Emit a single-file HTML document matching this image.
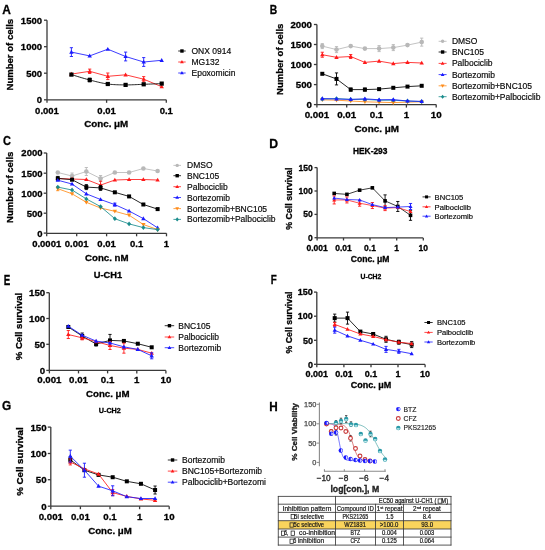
<!DOCTYPE html>
<html><head><meta charset="utf-8"><style>
html,body{margin:0;padding:0;background:#fff;width:545px;height:550px;overflow:hidden}
svg{display:block;filter:blur(0.35px);font-family:"Liberation Sans", sans-serif}
text[font-weight=bold]{stroke:#000;stroke-width:0.3px}
</style></head><body>
<svg width="545" height="550" viewBox="0 0 545 550">
<rect width="545" height="550" fill="#fff"/>
<text transform="translate(2.30,14.30) scale(0.922,1)" font-size="12.94" font-weight="bold" fill="#000">A</text>
<line x1="47.0" y1="20.2" x2="47.0" y2="99.8" stroke="#3a3a3a" stroke-width="1.3"/>
<line x1="44.0" y1="99.8" x2="47.0" y2="99.8" stroke="#3a3a3a" stroke-width="1.3"/>
<text x="42.0" y="103.22" font-size="9.5" font-weight="bold" text-anchor="end" fill="#000">0</text>
<line x1="44.0" y1="73.2" x2="47.0" y2="73.2" stroke="#3a3a3a" stroke-width="1.3"/>
<text x="42.0" y="76.62" font-size="9.5" font-weight="bold" text-anchor="end" fill="#000">500</text>
<line x1="44.0" y1="46.7" x2="47.0" y2="46.7" stroke="#3a3a3a" stroke-width="1.3"/>
<text x="42.0" y="50.120000000000005" font-size="9.5" font-weight="bold" text-anchor="end" fill="#000">1000</text>
<line x1="44.0" y1="20.2" x2="47.0" y2="20.2" stroke="#3a3a3a" stroke-width="1.3"/>
<text x="42.0" y="23.619999999999997" font-size="9.5" font-weight="bold" text-anchor="end" fill="#000">1500</text>
<line x1="47.0" y1="99.8" x2="166.3" y2="99.8" stroke="#3a3a3a" stroke-width="1.3"/>
<line x1="47.0" y1="99.8" x2="47.0" y2="102.8" stroke="#3a3a3a" stroke-width="1.3"/>
<text x="47.0" y="113.5" font-size="9.5" font-weight="bold" text-anchor="middle" fill="#000">0.001</text>
<line x1="106.6" y1="99.8" x2="106.6" y2="102.8" stroke="#3a3a3a" stroke-width="1.3"/>
<text x="106.6" y="113.5" font-size="9.5" font-weight="bold" text-anchor="middle" fill="#000">0.01</text>
<line x1="166.3" y1="99.8" x2="166.3" y2="102.8" stroke="#3a3a3a" stroke-width="1.3"/>
<text x="166.3" y="113.5" font-size="9.5" font-weight="bold" text-anchor="middle" fill="#000">0.1</text>
<text x="106.2" y="126.7" font-size="9.8" font-weight="bold" text-anchor="middle" fill="#000">Conc. μM</text>
<text x="13.3" y="54.7" font-size="9.55" font-weight="bold" text-anchor="middle" transform="rotate(-90 13.3 54.7)" fill="#000">Number of cells</text>
<polyline points="71.40,74.10 89.70,71.30 107.80,76.30 125.60,74.80 143.70,79.20 161.70,86.70" fill="none" stroke="#ff1a1a" stroke-width="0.85" stroke-linejoin="round"/>
<line x1="89.7" y1="69.1" x2="89.7" y2="73.5" stroke="#ff1a1a" stroke-width="0.9"/>
<line x1="88.10000000000001" y1="69.1" x2="91.3" y2="69.1" stroke="#ff1a1a" stroke-width="0.9"/>
<line x1="88.10000000000001" y1="73.5" x2="91.3" y2="73.5" stroke="#ff1a1a" stroke-width="0.9"/>
<line x1="107.8" y1="73.0" x2="107.8" y2="79.6" stroke="#ff1a1a" stroke-width="0.9"/>
<line x1="106.2" y1="73.0" x2="109.39999999999999" y2="73.0" stroke="#ff1a1a" stroke-width="0.9"/>
<line x1="106.2" y1="79.6" x2="109.39999999999999" y2="79.6" stroke="#ff1a1a" stroke-width="0.9"/>
<line x1="143.7" y1="76.60000000000001" x2="143.7" y2="81.8" stroke="#ff1a1a" stroke-width="0.9"/>
<line x1="142.1" y1="76.60000000000001" x2="145.29999999999998" y2="76.60000000000001" stroke="#ff1a1a" stroke-width="0.9"/>
<line x1="142.1" y1="81.8" x2="145.29999999999998" y2="81.8" stroke="#ff1a1a" stroke-width="0.9"/>
<polygon points="71.40,71.80 73.60,75.70 69.20,75.70" fill="#ff1a1a"/>
<polygon points="89.70,69.00 91.90,72.90 87.50,72.90" fill="#ff1a1a"/>
<polygon points="107.80,74.00 110.00,77.90 105.60,77.90" fill="#ff1a1a"/>
<polygon points="125.60,72.50 127.80,76.40 123.40,76.40" fill="#ff1a1a"/>
<polygon points="143.70,76.90 145.90,80.80 141.50,80.80" fill="#ff1a1a"/>
<polygon points="161.70,84.40 163.90,88.30 159.50,88.30" fill="#ff1a1a"/>
<polyline points="71.40,74.60 72.28,74.87 73.39,75.20 74.69,75.60 76.15,76.05 77.74,76.54 79.42,77.05 81.16,77.58 82.94,78.10 84.71,78.62 86.45,79.12 88.12,79.58 89.70,80.00 91.22,80.39 92.73,80.78 94.25,81.17 95.76,81.55 97.27,81.92 98.78,82.28 100.29,82.62 101.80,82.95 103.30,83.25 104.80,83.53 106.30,83.78 107.80,84.00 109.29,84.19 110.78,84.35 112.26,84.48 113.74,84.59 115.22,84.67 116.70,84.74 118.18,84.79 119.66,84.83 121.14,84.85 122.62,84.87 124.11,84.89 125.60,84.90 127.10,84.90 128.60,84.89 130.11,84.86 131.61,84.81 133.13,84.76 134.64,84.70 136.15,84.63 137.66,84.56 139.18,84.49 140.69,84.42 142.19,84.36 143.70,84.30 145.26,84.24 146.91,84.18 148.63,84.12 150.37,84.05 152.12,83.98 153.83,83.91 155.48,83.85 157.04,83.79 158.47,83.73 159.74,83.68 160.83,83.63 161.70,83.60" fill="none" stroke="#000" stroke-width="0.85" stroke-linejoin="round"/>
<rect x="69.30" y="72.50" width="4.20" height="4.20" fill="#000"/>
<rect x="87.60" y="77.90" width="4.20" height="4.20" fill="#000"/>
<rect x="105.70" y="81.90" width="4.20" height="4.20" fill="#000"/>
<rect x="123.50" y="82.80" width="4.20" height="4.20" fill="#000"/>
<rect x="141.60" y="82.20" width="4.20" height="4.20" fill="#000"/>
<rect x="159.60" y="81.50" width="4.20" height="4.20" fill="#000"/>
<line x1="89.7" y1="78.2" x2="89.7" y2="81.8" stroke="#000" stroke-width="0.9"/>
<line x1="88.10000000000001" y1="78.2" x2="91.3" y2="78.2" stroke="#000" stroke-width="0.9"/>
<line x1="88.10000000000001" y1="81.8" x2="91.3" y2="81.8" stroke="#000" stroke-width="0.9"/>
<polyline points="71.40,52.10 89.70,55.90 107.80,49.20 125.60,56.50 143.70,62.00 161.70,60.30" fill="none" stroke="#1a1aff" stroke-width="0.85" stroke-linejoin="round"/>
<line x1="71.4" y1="47.7" x2="71.4" y2="56.5" stroke="#1a1aff" stroke-width="0.9"/>
<line x1="69.80000000000001" y1="47.7" x2="73.0" y2="47.7" stroke="#1a1aff" stroke-width="0.9"/>
<line x1="69.80000000000001" y1="56.5" x2="73.0" y2="56.5" stroke="#1a1aff" stroke-width="0.9"/>
<line x1="125.6" y1="52.1" x2="125.6" y2="60.9" stroke="#1a1aff" stroke-width="0.9"/>
<line x1="124.0" y1="52.1" x2="127.19999999999999" y2="52.1" stroke="#1a1aff" stroke-width="0.9"/>
<line x1="124.0" y1="60.9" x2="127.19999999999999" y2="60.9" stroke="#1a1aff" stroke-width="0.9"/>
<line x1="143.7" y1="57.6" x2="143.7" y2="66.4" stroke="#1a1aff" stroke-width="0.9"/>
<line x1="142.1" y1="57.6" x2="145.29999999999998" y2="57.6" stroke="#1a1aff" stroke-width="0.9"/>
<line x1="142.1" y1="66.4" x2="145.29999999999998" y2="66.4" stroke="#1a1aff" stroke-width="0.9"/>
<polygon points="71.40,49.80 73.60,53.70 69.20,53.70" fill="#1a1aff"/>
<polygon points="89.70,53.60 91.90,57.50 87.50,57.50" fill="#1a1aff"/>
<polygon points="107.80,46.90 110.00,50.80 105.60,50.80" fill="#1a1aff"/>
<polygon points="125.60,54.20 127.80,58.10 123.40,58.10" fill="#1a1aff"/>
<polygon points="143.70,59.70 145.90,63.60 141.50,63.60" fill="#1a1aff"/>
<polygon points="161.70,58.00 163.90,61.90 159.50,61.90" fill="#1a1aff"/>
<line x1="178.2" y1="51" x2="185.7" y2="51" stroke="#000" stroke-width="0.8"/>
<rect x="180.25" y="49.30" width="3.40" height="3.40" fill="#000"/>
<text x="191.5" y="54.06" font-size="8.5" stroke="#0a0a0a" stroke-width="0.18" fill="#0a0a0a">ONX 0914</text>
<line x1="178.2" y1="62" x2="185.7" y2="62" stroke="#ff1a1a" stroke-width="0.8"/>
<polygon points="181.95,60.05 183.82,63.36 180.08,63.36" fill="#ff1a1a"/>
<text x="191.5" y="65.06" font-size="8.5" stroke="#0a0a0a" stroke-width="0.18" fill="#0a0a0a">MG132</text>
<line x1="178.2" y1="73" x2="185.7" y2="73" stroke="#1a1aff" stroke-width="0.8"/>
<polygon points="181.95,71.05 183.82,74.36 180.08,74.36" fill="#1a1aff"/>
<text x="191.5" y="76.06" font-size="8.5" stroke="#0a0a0a" stroke-width="0.18" fill="#0a0a0a">Epoxomicin</text>
<text transform="translate(269.71,13.70) scale(0.799,1)" font-size="12.94" font-weight="bold" fill="#000">B</text>
<line x1="316.9" y1="24.5" x2="316.9" y2="104.6" stroke="#3a3a3a" stroke-width="1.3"/>
<line x1="313.9" y1="104.6" x2="316.9" y2="104.6" stroke="#3a3a3a" stroke-width="1.3"/>
<text x="312.0" y="108.092" font-size="9.7" font-weight="bold" text-anchor="end" fill="#000">0</text>
<line x1="313.9" y1="84.6" x2="316.9" y2="84.6" stroke="#3a3a3a" stroke-width="1.3"/>
<text x="312.0" y="88.092" font-size="9.7" font-weight="bold" text-anchor="end" fill="#000">500</text>
<line x1="313.9" y1="64.5" x2="316.9" y2="64.5" stroke="#3a3a3a" stroke-width="1.3"/>
<text x="312.0" y="67.992" font-size="9.7" font-weight="bold" text-anchor="end" fill="#000">1000</text>
<line x1="313.9" y1="44.5" x2="316.9" y2="44.5" stroke="#3a3a3a" stroke-width="1.3"/>
<text x="312.0" y="47.992" font-size="9.7" font-weight="bold" text-anchor="end" fill="#000">1500</text>
<line x1="313.9" y1="24.5" x2="316.9" y2="24.5" stroke="#3a3a3a" stroke-width="1.3"/>
<text x="312.0" y="27.992" font-size="9.7" font-weight="bold" text-anchor="end" fill="#000">2000</text>
<line x1="316.9" y1="104.6" x2="436.2" y2="104.6" stroke="#3a3a3a" stroke-width="1.3"/>
<line x1="316.9" y1="104.6" x2="316.9" y2="107.6" stroke="#3a3a3a" stroke-width="1.3"/>
<text x="316.9" y="117.7" font-size="9.8" font-weight="bold" text-anchor="middle" fill="#000">0.001</text>
<line x1="346.7" y1="104.6" x2="346.7" y2="107.6" stroke="#3a3a3a" stroke-width="1.3"/>
<text x="346.7" y="117.7" font-size="9.8" font-weight="bold" text-anchor="middle" fill="#000">0.01</text>
<line x1="376.5" y1="104.6" x2="376.5" y2="107.6" stroke="#3a3a3a" stroke-width="1.3"/>
<text x="376.5" y="117.7" font-size="9.8" font-weight="bold" text-anchor="middle" fill="#000">0.1</text>
<line x1="406.4" y1="104.6" x2="406.4" y2="107.6" stroke="#3a3a3a" stroke-width="1.3"/>
<text x="406.4" y="117.7" font-size="9.8" font-weight="bold" text-anchor="middle" fill="#000">1</text>
<line x1="436.2" y1="104.6" x2="436.2" y2="107.6" stroke="#3a3a3a" stroke-width="1.3"/>
<text x="436.2" y="117.7" font-size="9.8" font-weight="bold" text-anchor="middle" fill="#000">10</text>
<text x="376.7" y="131.7" font-size="9.9" font-weight="bold" text-anchor="middle" fill="#000">Conc. μM</text>
<text x="283.3" y="59.3" font-size="9.5" font-weight="bold" text-anchor="middle" transform="rotate(-90 283.3 59.3)" fill="#000">Number of cells</text>
<polyline points="322.30,46.12 336.50,49.60 350.70,46.12 364.90,48.60 379.10,48.60 393.30,47.60 407.50,45.12 421.70,42.12" fill="none" stroke="#b8b8b8" stroke-width="0.85" stroke-linejoin="round"/>
<line x1="322.3" y1="43.61999999999999" x2="322.3" y2="48.61999999999999" stroke="#b8b8b8" stroke-width="0.9"/>
<line x1="320.7" y1="43.61999999999999" x2="323.90000000000003" y2="43.61999999999999" stroke="#b8b8b8" stroke-width="0.9"/>
<line x1="320.7" y1="48.61999999999999" x2="323.90000000000003" y2="48.61999999999999" stroke="#b8b8b8" stroke-width="0.9"/>
<line x1="336.5" y1="46.599999999999994" x2="336.5" y2="52.599999999999994" stroke="#b8b8b8" stroke-width="0.9"/>
<line x1="334.9" y1="46.599999999999994" x2="338.1" y2="46.599999999999994" stroke="#b8b8b8" stroke-width="0.9"/>
<line x1="334.9" y1="52.599999999999994" x2="338.1" y2="52.599999999999994" stroke="#b8b8b8" stroke-width="0.9"/>
<line x1="379.1" y1="45.599999999999994" x2="379.1" y2="51.599999999999994" stroke="#b8b8b8" stroke-width="0.9"/>
<line x1="377.5" y1="45.599999999999994" x2="380.70000000000005" y2="45.599999999999994" stroke="#b8b8b8" stroke-width="0.9"/>
<line x1="377.5" y1="51.599999999999994" x2="380.70000000000005" y2="51.599999999999994" stroke="#b8b8b8" stroke-width="0.9"/>
<line x1="393.3" y1="44.599999999999994" x2="393.3" y2="50.599999999999994" stroke="#b8b8b8" stroke-width="0.9"/>
<line x1="391.7" y1="44.599999999999994" x2="394.90000000000003" y2="44.599999999999994" stroke="#b8b8b8" stroke-width="0.9"/>
<line x1="391.7" y1="50.599999999999994" x2="394.90000000000003" y2="50.599999999999994" stroke="#b8b8b8" stroke-width="0.9"/>
<line x1="421.7" y1="38.11999999999999" x2="421.7" y2="46.11999999999999" stroke="#b8b8b8" stroke-width="0.9"/>
<line x1="420.09999999999997" y1="38.11999999999999" x2="423.3" y2="38.11999999999999" stroke="#b8b8b8" stroke-width="0.9"/>
<line x1="420.09999999999997" y1="46.11999999999999" x2="423.3" y2="46.11999999999999" stroke="#b8b8b8" stroke-width="0.9"/>
<circle cx="322.30" cy="46.12" r="2.30" fill="#b8b8b8"/>
<circle cx="336.50" cy="49.60" r="2.30" fill="#b8b8b8"/>
<circle cx="350.70" cy="46.12" r="2.30" fill="#b8b8b8"/>
<circle cx="364.90" cy="48.60" r="2.30" fill="#b8b8b8"/>
<circle cx="379.10" cy="48.60" r="2.30" fill="#b8b8b8"/>
<circle cx="393.30" cy="47.60" r="2.30" fill="#b8b8b8"/>
<circle cx="407.50" cy="45.12" r="2.30" fill="#b8b8b8"/>
<circle cx="421.70" cy="42.12" r="2.30" fill="#b8b8b8"/>
<polyline points="322.30,54.72 336.50,57.32 350.70,56.52 364.90,62.40 379.10,61.12 393.30,63.60 407.50,62.40 421.70,63.00" fill="none" stroke="#ff1a1a" stroke-width="0.85" stroke-linejoin="round"/>
<line x1="322.3" y1="52.21999999999999" x2="322.3" y2="57.21999999999999" stroke="#ff1a1a" stroke-width="0.9"/>
<line x1="320.7" y1="52.21999999999999" x2="323.90000000000003" y2="52.21999999999999" stroke="#ff1a1a" stroke-width="0.9"/>
<line x1="320.7" y1="57.21999999999999" x2="323.90000000000003" y2="57.21999999999999" stroke="#ff1a1a" stroke-width="0.9"/>
<line x1="350.7" y1="54.519999999999996" x2="350.7" y2="58.519999999999996" stroke="#ff1a1a" stroke-width="0.9"/>
<line x1="349.09999999999997" y1="54.519999999999996" x2="352.3" y2="54.519999999999996" stroke="#ff1a1a" stroke-width="0.9"/>
<line x1="349.09999999999997" y1="58.519999999999996" x2="352.3" y2="58.519999999999996" stroke="#ff1a1a" stroke-width="0.9"/>
<polygon points="322.30,52.42 324.50,56.32 320.10,56.32" fill="#ff1a1a"/>
<polygon points="336.50,55.02 338.70,58.92 334.30,58.92" fill="#ff1a1a"/>
<polygon points="350.70,54.22 352.90,58.12 348.50,58.12" fill="#ff1a1a"/>
<polygon points="364.90,60.10 367.10,64.00 362.70,64.00" fill="#ff1a1a"/>
<polygon points="379.10,58.82 381.30,62.72 376.90,62.72" fill="#ff1a1a"/>
<polygon points="393.30,61.30 395.50,65.20 391.10,65.20" fill="#ff1a1a"/>
<polygon points="407.50,60.10 409.70,64.00 405.30,64.00" fill="#ff1a1a"/>
<polygon points="421.70,60.70 423.90,64.60 419.50,64.60" fill="#ff1a1a"/>
<polyline points="322.30,73.80 336.50,78.92 350.70,89.60 364.90,89.60 379.10,89.12 393.30,87.80 407.50,86.60 421.70,85.80" fill="none" stroke="#000" stroke-width="0.85" stroke-linejoin="round"/>
<line x1="336.5" y1="72.91999999999999" x2="336.5" y2="84.91999999999999" stroke="#000" stroke-width="0.9"/>
<line x1="334.9" y1="72.91999999999999" x2="338.1" y2="72.91999999999999" stroke="#000" stroke-width="0.9"/>
<line x1="334.9" y1="84.91999999999999" x2="338.1" y2="84.91999999999999" stroke="#000" stroke-width="0.9"/>
<line x1="350.7" y1="88.1" x2="350.7" y2="91.1" stroke="#000" stroke-width="0.9"/>
<line x1="349.09999999999997" y1="88.1" x2="352.3" y2="88.1" stroke="#000" stroke-width="0.9"/>
<line x1="349.09999999999997" y1="91.1" x2="352.3" y2="91.1" stroke="#000" stroke-width="0.9"/>
<line x1="364.9" y1="88.1" x2="364.9" y2="91.1" stroke="#000" stroke-width="0.9"/>
<line x1="363.29999999999995" y1="88.1" x2="366.5" y2="88.1" stroke="#000" stroke-width="0.9"/>
<line x1="363.29999999999995" y1="91.1" x2="366.5" y2="91.1" stroke="#000" stroke-width="0.9"/>
<rect x="320.30" y="71.80" width="4.00" height="4.00" fill="#000"/>
<rect x="334.50" y="76.92" width="4.00" height="4.00" fill="#000"/>
<rect x="348.70" y="87.60" width="4.00" height="4.00" fill="#000"/>
<rect x="362.90" y="87.60" width="4.00" height="4.00" fill="#000"/>
<rect x="377.10" y="87.12" width="4.00" height="4.00" fill="#000"/>
<rect x="391.30" y="85.80" width="4.00" height="4.00" fill="#000"/>
<rect x="405.50" y="84.60" width="4.00" height="4.00" fill="#000"/>
<rect x="419.70" y="83.80" width="4.00" height="4.00" fill="#000"/>
<polyline points="322.30,99.80 336.50,100.20 350.70,101.00 364.90,101.80 379.10,102.20 393.30,102.60 407.50,102.20 421.70,101.80" fill="none" stroke="#ff8c1a" stroke-width="0.85" stroke-linejoin="round"/>
<polygon points="322.30,102.10 324.50,98.20 320.10,98.20" fill="#ff8c1a"/>
<polygon points="336.50,102.50 338.70,98.60 334.30,98.60" fill="#ff8c1a"/>
<polygon points="350.70,103.30 352.90,99.40 348.50,99.40" fill="#ff8c1a"/>
<polygon points="364.90,104.10 367.10,100.20 362.70,100.20" fill="#ff8c1a"/>
<polygon points="379.10,104.50 381.30,100.60 376.90,100.60" fill="#ff8c1a"/>
<polygon points="393.30,104.90 395.50,101.00 391.10,101.00" fill="#ff8c1a"/>
<polygon points="407.50,104.50 409.70,100.60 405.30,100.60" fill="#ff8c1a"/>
<polygon points="421.70,104.10 423.90,100.20 419.50,100.20" fill="#ff8c1a"/>
<polyline points="322.30,99.00 336.50,98.60 350.70,99.40 364.90,99.40 379.10,100.20 393.30,100.20 407.50,101.00 421.70,101.60" fill="none" stroke="#1a8c8c" stroke-width="0.85" stroke-linejoin="round"/>
<polygon points="322.30,96.60 324.30,99.00 322.30,101.40 320.30,99.00" fill="#1a8c8c"/>
<polygon points="336.50,96.20 338.50,98.60 336.50,101.00 334.50,98.60" fill="#1a8c8c"/>
<polygon points="350.70,97.00 352.70,99.40 350.70,101.80 348.70,99.40" fill="#1a8c8c"/>
<polygon points="364.90,97.00 366.90,99.40 364.90,101.80 362.90,99.40" fill="#1a8c8c"/>
<polygon points="379.10,97.80 381.10,100.20 379.10,102.60 377.10,100.20" fill="#1a8c8c"/>
<polygon points="393.30,97.80 395.30,100.20 393.30,102.60 391.30,100.20" fill="#1a8c8c"/>
<polygon points="407.50,98.60 409.50,101.00 407.50,103.40 405.50,101.00" fill="#1a8c8c"/>
<polygon points="421.70,99.20 423.70,101.60 421.70,104.00 419.70,101.60" fill="#1a8c8c"/>
<polyline points="322.30,98.60 336.50,99.00 350.70,99.40 364.90,98.80 379.10,99.80 393.30,99.60 407.50,101.00 421.70,101.40" fill="none" stroke="#1a1aff" stroke-width="0.85" stroke-linejoin="round"/>
<polygon points="322.30,96.30 324.50,100.20 320.10,100.20" fill="#1a1aff"/>
<polygon points="336.50,96.70 338.70,100.60 334.30,100.60" fill="#1a1aff"/>
<polygon points="350.70,97.10 352.90,101.00 348.50,101.00" fill="#1a1aff"/>
<polygon points="364.90,96.50 367.10,100.40 362.70,100.40" fill="#1a1aff"/>
<polygon points="379.10,97.50 381.30,101.40 376.90,101.40" fill="#1a1aff"/>
<polygon points="393.30,97.30 395.50,101.20 391.10,101.20" fill="#1a1aff"/>
<polygon points="407.50,98.70 409.70,102.60 405.30,102.60" fill="#1a1aff"/>
<polygon points="421.70,99.10 423.90,103.00 419.50,103.00" fill="#1a1aff"/>
<line x1="438.6" y1="41.3" x2="446.6" y2="41.3" stroke="#b8b8b8" stroke-width="0.8"/>
<circle cx="442.60" cy="41.30" r="1.70" fill="#b8b8b8"/>
<text x="451.9" y="44.36" font-size="8.5" stroke="#0a0a0a" stroke-width="0.18" fill="#0a0a0a">DMSO</text>
<line x1="438.6" y1="52" x2="446.6" y2="52" stroke="#000" stroke-width="0.8"/>
<rect x="440.90" y="50.30" width="3.40" height="3.40" fill="#000"/>
<text x="451.9" y="55.06" font-size="8.5" stroke="#0a0a0a" stroke-width="0.18" fill="#0a0a0a">BNC105</text>
<line x1="438.6" y1="63.4" x2="446.6" y2="63.4" stroke="#ff1a1a" stroke-width="0.8"/>
<polygon points="442.60,61.45 444.47,64.76 440.73,64.76" fill="#ff1a1a"/>
<text x="451.9" y="66.46" font-size="8.5" stroke="#0a0a0a" stroke-width="0.18" fill="#0a0a0a">Palbociclib</text>
<line x1="438.6" y1="74.6" x2="446.6" y2="74.6" stroke="#1a1aff" stroke-width="0.8"/>
<polygon points="442.60,72.64 444.47,75.96 440.73,75.96" fill="#1a1aff"/>
<text x="451.9" y="77.66" font-size="8.5" stroke="#0a0a0a" stroke-width="0.18" fill="#0a0a0a">Bortezomib</text>
<line x1="438.6" y1="85.8" x2="446.6" y2="85.8" stroke="#ff8c1a" stroke-width="0.8"/>
<polygon points="442.60,87.75 444.47,84.44 440.73,84.44" fill="#ff8c1a"/>
<text x="451.9" y="88.86" font-size="8.5" stroke="#0a0a0a" stroke-width="0.18" fill="#0a0a0a">Bortezomib+BNC105</text>
<line x1="438.6" y1="96.7" x2="446.6" y2="96.7" stroke="#1a8c8c" stroke-width="0.8"/>
<polygon points="442.60,94.66 444.30,96.70 442.60,98.74 440.90,96.70" fill="#1a8c8c"/>
<text x="451.9" y="99.76" font-size="8.5" stroke="#0a0a0a" stroke-width="0.18" fill="#0a0a0a">Bortezomib+Palbociclib</text>
<text transform="translate(2.95,144.50) scale(0.836,1)" font-size="13.18" font-weight="bold" fill="#000">C</text>
<line x1="46.7" y1="153.0" x2="46.7" y2="233.3" stroke="#3a3a3a" stroke-width="1.3"/>
<line x1="43.7" y1="233.1" x2="46.7" y2="233.1" stroke="#3a3a3a" stroke-width="1.3"/>
<text x="42.5" y="236.51999999999998" font-size="9.5" font-weight="bold" text-anchor="end" fill="#000">0</text>
<line x1="43.7" y1="213.2" x2="46.7" y2="213.2" stroke="#3a3a3a" stroke-width="1.3"/>
<text x="42.5" y="216.61999999999998" font-size="9.5" font-weight="bold" text-anchor="end" fill="#000">500</text>
<line x1="43.7" y1="193.2" x2="46.7" y2="193.2" stroke="#3a3a3a" stroke-width="1.3"/>
<text x="42.5" y="196.61999999999998" font-size="9.5" font-weight="bold" text-anchor="end" fill="#000">1000</text>
<line x1="43.7" y1="173.2" x2="46.7" y2="173.2" stroke="#3a3a3a" stroke-width="1.3"/>
<text x="42.5" y="176.61999999999998" font-size="9.5" font-weight="bold" text-anchor="end" fill="#000">1500</text>
<line x1="43.7" y1="153.0" x2="46.7" y2="153.0" stroke="#3a3a3a" stroke-width="1.3"/>
<text x="42.5" y="156.42" font-size="9.5" font-weight="bold" text-anchor="end" fill="#000">2000</text>
<line x1="46.7" y1="233.3" x2="166.5" y2="233.3" stroke="#3a3a3a" stroke-width="1.3"/>
<line x1="46.7" y1="233.3" x2="46.7" y2="236.3" stroke="#3a3a3a" stroke-width="1.3"/>
<text x="46.7" y="247.1" font-size="9.5" font-weight="bold" text-anchor="middle" fill="#000">0.0001</text>
<line x1="76.7" y1="233.3" x2="76.7" y2="236.3" stroke="#3a3a3a" stroke-width="1.3"/>
<text x="76.7" y="247.1" font-size="9.5" font-weight="bold" text-anchor="middle" fill="#000">0.001</text>
<line x1="106.6" y1="233.3" x2="106.6" y2="236.3" stroke="#3a3a3a" stroke-width="1.3"/>
<text x="106.6" y="247.1" font-size="9.5" font-weight="bold" text-anchor="middle" fill="#000">0.01</text>
<line x1="136.6" y1="233.3" x2="136.6" y2="236.3" stroke="#3a3a3a" stroke-width="1.3"/>
<text x="136.6" y="247.1" font-size="9.5" font-weight="bold" text-anchor="middle" fill="#000">0.1</text>
<line x1="166.5" y1="233.3" x2="166.5" y2="236.3" stroke="#3a3a3a" stroke-width="1.3"/>
<text x="166.5" y="247.1" font-size="9.5" font-weight="bold" text-anchor="middle" fill="#000">1</text>
<text x="106.8" y="260.8" font-size="9.7" font-weight="bold" text-anchor="middle" fill="#000">Conc. nM</text>
<text x="13.3" y="187.3" font-size="9.5" font-weight="bold" text-anchor="middle" transform="rotate(-90 13.3 187.3)" fill="#000">Number of cells</text>
<polyline points="57.80,172.50 72.06,176.02 86.32,171.50 100.58,178.50 114.84,172.50 129.10,172.50 143.36,168.50 157.62,171.02" fill="none" stroke="#b8b8b8" stroke-width="0.85" stroke-linejoin="round"/>
<line x1="72.06" y1="173.01999999999998" x2="72.06" y2="179.01999999999998" stroke="#b8b8b8" stroke-width="0.9"/>
<line x1="70.46000000000001" y1="173.01999999999998" x2="73.66" y2="173.01999999999998" stroke="#b8b8b8" stroke-width="0.9"/>
<line x1="70.46000000000001" y1="179.01999999999998" x2="73.66" y2="179.01999999999998" stroke="#b8b8b8" stroke-width="0.9"/>
<line x1="86.32" y1="167.5" x2="86.32" y2="175.5" stroke="#b8b8b8" stroke-width="0.9"/>
<line x1="84.72" y1="167.5" x2="87.91999999999999" y2="167.5" stroke="#b8b8b8" stroke-width="0.9"/>
<line x1="84.72" y1="175.5" x2="87.91999999999999" y2="175.5" stroke="#b8b8b8" stroke-width="0.9"/>
<line x1="100.58" y1="175.5" x2="100.58" y2="181.5" stroke="#b8b8b8" stroke-width="0.9"/>
<line x1="98.98" y1="175.5" x2="102.17999999999999" y2="175.5" stroke="#b8b8b8" stroke-width="0.9"/>
<line x1="98.98" y1="181.5" x2="102.17999999999999" y2="181.5" stroke="#b8b8b8" stroke-width="0.9"/>
<circle cx="57.80" cy="172.50" r="2.30" fill="#b8b8b8"/>
<circle cx="72.06" cy="176.02" r="2.30" fill="#b8b8b8"/>
<circle cx="86.32" cy="171.50" r="2.30" fill="#b8b8b8"/>
<circle cx="100.58" cy="178.50" r="2.30" fill="#b8b8b8"/>
<circle cx="114.84" cy="172.50" r="2.30" fill="#b8b8b8"/>
<circle cx="129.10" cy="172.50" r="2.30" fill="#b8b8b8"/>
<circle cx="143.36" cy="168.50" r="2.30" fill="#b8b8b8"/>
<circle cx="157.62" cy="171.02" r="2.30" fill="#b8b8b8"/>
<polyline points="57.80,178.50 72.06,179.02 86.32,179.50 100.58,185.10 114.84,180.02 129.10,179.50 143.36,179.50 157.62,180.02" fill="none" stroke="#ff1a1a" stroke-width="0.85" stroke-linejoin="round"/>
<line x1="100.58" y1="181.1" x2="100.58" y2="189.1" stroke="#ff1a1a" stroke-width="0.9"/>
<line x1="98.98" y1="181.1" x2="102.17999999999999" y2="181.1" stroke="#ff1a1a" stroke-width="0.9"/>
<line x1="98.98" y1="189.1" x2="102.17999999999999" y2="189.1" stroke="#ff1a1a" stroke-width="0.9"/>
<polygon points="57.80,176.20 60.00,180.10 55.60,180.10" fill="#ff1a1a"/>
<polygon points="72.06,176.72 74.26,180.62 69.86,180.62" fill="#ff1a1a"/>
<polygon points="86.32,177.20 88.52,181.10 84.12,181.10" fill="#ff1a1a"/>
<polygon points="100.58,182.80 102.78,186.70 98.38,186.70" fill="#ff1a1a"/>
<polygon points="114.84,177.72 117.04,181.62 112.64,181.62" fill="#ff1a1a"/>
<polygon points="129.10,177.20 131.30,181.10 126.90,181.10" fill="#ff1a1a"/>
<polygon points="143.36,177.20 145.56,181.10 141.16,181.10" fill="#ff1a1a"/>
<polygon points="157.62,177.72 159.82,181.62 155.42,181.62" fill="#ff1a1a"/>
<polyline points="57.80,178.42 72.06,179.70 86.32,187.10 100.58,187.90 114.84,192.30 129.10,196.42 143.36,204.50 157.62,209.10" fill="none" stroke="#000" stroke-width="0.85" stroke-linejoin="round"/>
<line x1="57.8" y1="176.42" x2="57.8" y2="180.42" stroke="#000" stroke-width="0.9"/>
<line x1="56.199999999999996" y1="176.42" x2="59.4" y2="176.42" stroke="#000" stroke-width="0.9"/>
<line x1="56.199999999999996" y1="180.42" x2="59.4" y2="180.42" stroke="#000" stroke-width="0.9"/>
<line x1="86.32" y1="184.6" x2="86.32" y2="189.6" stroke="#000" stroke-width="0.9"/>
<line x1="84.72" y1="184.6" x2="87.91999999999999" y2="184.6" stroke="#000" stroke-width="0.9"/>
<line x1="84.72" y1="189.6" x2="87.91999999999999" y2="189.6" stroke="#000" stroke-width="0.9"/>
<line x1="100.58" y1="185.39999999999998" x2="100.58" y2="190.39999999999998" stroke="#000" stroke-width="0.9"/>
<line x1="98.98" y1="185.39999999999998" x2="102.17999999999999" y2="185.39999999999998" stroke="#000" stroke-width="0.9"/>
<line x1="98.98" y1="190.39999999999998" x2="102.17999999999999" y2="190.39999999999998" stroke="#000" stroke-width="0.9"/>
<rect x="55.80" y="176.42" width="4.00" height="4.00" fill="#000"/>
<rect x="70.06" y="177.70" width="4.00" height="4.00" fill="#000"/>
<rect x="84.32" y="185.10" width="4.00" height="4.00" fill="#000"/>
<rect x="98.58" y="185.90" width="4.00" height="4.00" fill="#000"/>
<rect x="112.84" y="190.30" width="4.00" height="4.00" fill="#000"/>
<rect x="127.10" y="194.42" width="4.00" height="4.00" fill="#000"/>
<rect x="141.36" y="202.50" width="4.00" height="4.00" fill="#000"/>
<rect x="155.62" y="207.10" width="4.00" height="4.00" fill="#000"/>
<polyline points="57.80,180.22 72.06,184.02 86.32,193.82 100.58,199.50 114.84,204.62 129.10,211.02 143.36,218.62 157.62,227.82" fill="none" stroke="#1a1aff" stroke-width="0.85" stroke-linejoin="round"/>
<line x1="114.84" y1="203.12" x2="114.84" y2="206.12" stroke="#1a1aff" stroke-width="0.9"/>
<line x1="113.24000000000001" y1="203.12" x2="116.44" y2="203.12" stroke="#1a1aff" stroke-width="0.9"/>
<line x1="113.24000000000001" y1="206.12" x2="116.44" y2="206.12" stroke="#1a1aff" stroke-width="0.9"/>
<polygon points="57.80,177.92 60.00,181.82 55.60,181.82" fill="#1a1aff"/>
<polygon points="72.06,181.72 74.26,185.62 69.86,185.62" fill="#1a1aff"/>
<polygon points="86.32,191.52 88.52,195.42 84.12,195.42" fill="#1a1aff"/>
<polygon points="100.58,197.20 102.78,201.10 98.38,201.10" fill="#1a1aff"/>
<polygon points="114.84,202.32 117.04,206.22 112.64,206.22" fill="#1a1aff"/>
<polygon points="129.10,208.72 131.30,212.62 126.90,212.62" fill="#1a1aff"/>
<polygon points="143.36,216.32 145.56,220.22 141.16,220.22" fill="#1a1aff"/>
<polygon points="157.62,225.52 159.82,229.42 155.42,229.42" fill="#1a1aff"/>
<polyline points="57.80,188.70 72.06,193.82 86.32,202.30 100.58,208.02 114.84,211.30 129.10,215.22 143.36,224.50 157.62,229.62" fill="none" stroke="#ff8c1a" stroke-width="0.85" stroke-linejoin="round"/>
<line x1="57.8" y1="186.7" x2="57.8" y2="190.7" stroke="#ff8c1a" stroke-width="0.9"/>
<line x1="56.199999999999996" y1="186.7" x2="59.4" y2="186.7" stroke="#ff8c1a" stroke-width="0.9"/>
<line x1="56.199999999999996" y1="190.7" x2="59.4" y2="190.7" stroke="#ff8c1a" stroke-width="0.9"/>
<polygon points="57.80,191.00 60.00,187.10 55.60,187.10" fill="#ff8c1a"/>
<polygon points="72.06,196.12 74.26,192.22 69.86,192.22" fill="#ff8c1a"/>
<polygon points="86.32,204.60 88.52,200.70 84.12,200.70" fill="#ff8c1a"/>
<polygon points="100.58,210.32 102.78,206.42 98.38,206.42" fill="#ff8c1a"/>
<polygon points="114.84,213.60 117.04,209.70 112.64,209.70" fill="#ff8c1a"/>
<polygon points="129.10,217.52 131.30,213.62 126.90,213.62" fill="#ff8c1a"/>
<polygon points="143.36,226.80 145.56,222.90 141.16,222.90" fill="#ff8c1a"/>
<polygon points="157.62,231.92 159.82,228.02 155.42,228.02" fill="#ff8c1a"/>
<polyline points="57.80,187.10 72.06,190.02 86.32,198.90 100.58,206.62 114.84,218.70 129.10,223.90 143.36,227.62 157.62,229.62" fill="none" stroke="#1a8c8c" stroke-width="0.85" stroke-linejoin="round"/>
<polygon points="57.80,184.70 59.80,187.10 57.80,189.50 55.80,187.10" fill="#1a8c8c"/>
<polygon points="72.06,187.62 74.06,190.02 72.06,192.42 70.06,190.02" fill="#1a8c8c"/>
<polygon points="86.32,196.50 88.32,198.90 86.32,201.30 84.32,198.90" fill="#1a8c8c"/>
<polygon points="100.58,204.22 102.58,206.62 100.58,209.02 98.58,206.62" fill="#1a8c8c"/>
<polygon points="114.84,216.30 116.84,218.70 114.84,221.10 112.84,218.70" fill="#1a8c8c"/>
<polygon points="129.10,221.50 131.10,223.90 129.10,226.30 127.10,223.90" fill="#1a8c8c"/>
<polygon points="143.36,225.22 145.36,227.62 143.36,230.02 141.36,227.62" fill="#1a8c8c"/>
<polygon points="157.62,227.22 159.62,229.62 157.62,232.02 155.62,229.62" fill="#1a8c8c"/>
<line x1="173.4" y1="165.4" x2="181" y2="165.4" stroke="#b8b8b8" stroke-width="0.8"/>
<circle cx="177.20" cy="165.40" r="1.70" fill="#b8b8b8"/>
<text x="187" y="168.46" font-size="8.5" stroke="#0a0a0a" stroke-width="0.18" fill="#0a0a0a">DMSO</text>
<line x1="173.4" y1="175.7" x2="181" y2="175.7" stroke="#000" stroke-width="0.8"/>
<rect x="175.50" y="174.00" width="3.40" height="3.40" fill="#000"/>
<text x="187" y="178.76" font-size="8.5" stroke="#0a0a0a" stroke-width="0.18" fill="#0a0a0a">BNC105</text>
<line x1="173.4" y1="186.7" x2="181" y2="186.7" stroke="#ff1a1a" stroke-width="0.8"/>
<polygon points="177.20,184.74 179.07,188.06 175.33,188.06" fill="#ff1a1a"/>
<text x="187" y="189.76" font-size="8.5" stroke="#0a0a0a" stroke-width="0.18" fill="#0a0a0a">Palbociclib</text>
<line x1="173.4" y1="197.5" x2="181" y2="197.5" stroke="#1a1aff" stroke-width="0.8"/>
<polygon points="177.20,195.54 179.07,198.86 175.33,198.86" fill="#1a1aff"/>
<text x="187" y="200.56" font-size="8.5" stroke="#0a0a0a" stroke-width="0.18" fill="#0a0a0a">Bortezomib</text>
<line x1="173.4" y1="208.6" x2="181" y2="208.6" stroke="#ff8c1a" stroke-width="0.8"/>
<polygon points="177.20,210.56 179.07,207.24 175.33,207.24" fill="#ff8c1a"/>
<text x="187" y="211.66" font-size="8.5" stroke="#0a0a0a" stroke-width="0.18" fill="#0a0a0a">Bortezomib+BNC105</text>
<line x1="173.4" y1="219.4" x2="181" y2="219.4" stroke="#1a8c8c" stroke-width="0.8"/>
<polygon points="177.20,217.36 178.90,219.40 177.20,221.44 175.50,219.40" fill="#1a8c8c"/>
<text x="187" y="222.46" font-size="8.5" stroke="#0a0a0a" stroke-width="0.18" fill="#0a0a0a">Bortezomib+Palbociclib</text>
<text transform="translate(269.28,147.80) scale(0.945,1)" font-size="12.94" font-weight="bold" fill="#000">D</text>
<text x="370.2" y="153.6" font-size="8.4" font-weight="bold" text-anchor="middle" fill="#000">HEK-293</text>
<line x1="317.1" y1="167.6" x2="317.1" y2="237.9" stroke="#3a3a3a" stroke-width="1.3"/>
<line x1="314.5" y1="237.7" x2="317.1" y2="237.7" stroke="#3a3a3a" stroke-width="1.3"/>
<text x="312.8" y="240.76" font-size="8.5" font-weight="bold" text-anchor="end" fill="#000">0</text>
<line x1="314.5" y1="214.4" x2="317.1" y2="214.4" stroke="#3a3a3a" stroke-width="1.3"/>
<text x="312.8" y="217.46" font-size="8.5" font-weight="bold" text-anchor="end" fill="#000">50</text>
<line x1="314.5" y1="191.0" x2="317.1" y2="191.0" stroke="#3a3a3a" stroke-width="1.3"/>
<text x="312.8" y="194.06" font-size="8.5" font-weight="bold" text-anchor="end" fill="#000">100</text>
<line x1="314.5" y1="167.6" x2="317.1" y2="167.6" stroke="#3a3a3a" stroke-width="1.3"/>
<text x="312.8" y="170.66" font-size="8.5" font-weight="bold" text-anchor="end" fill="#000">150</text>
<line x1="317.1" y1="237.9" x2="423.3" y2="237.9" stroke="#3a3a3a" stroke-width="1.3"/>
<line x1="317.1" y1="237.9" x2="317.1" y2="240.5" stroke="#3a3a3a" stroke-width="1.3"/>
<text x="317.1" y="251.0" font-size="8.5" font-weight="bold" text-anchor="middle" fill="#000">0.001</text>
<line x1="343.5" y1="237.9" x2="343.5" y2="240.5" stroke="#3a3a3a" stroke-width="1.3"/>
<text x="343.5" y="251.0" font-size="8.5" font-weight="bold" text-anchor="middle" fill="#000">0.01</text>
<line x1="370.0" y1="237.9" x2="370.0" y2="240.5" stroke="#3a3a3a" stroke-width="1.3"/>
<text x="370.0" y="251.0" font-size="8.5" font-weight="bold" text-anchor="middle" fill="#000">0.1</text>
<line x1="396.7" y1="237.9" x2="396.7" y2="240.5" stroke="#3a3a3a" stroke-width="1.3"/>
<text x="396.7" y="251.0" font-size="8.5" font-weight="bold" text-anchor="middle" fill="#000">1</text>
<line x1="423.3" y1="237.9" x2="423.3" y2="240.5" stroke="#3a3a3a" stroke-width="1.3"/>
<text x="423.3" y="251.0" font-size="8.5" font-weight="bold" text-anchor="middle" fill="#000">10</text>
<text x="370.2" y="261.5" font-size="8.6" font-weight="bold" text-anchor="middle" fill="#000">Conc. μM</text>
<text x="292.1" y="198.6" font-size="8.8" font-weight="bold" text-anchor="middle" transform="rotate(-90 292.1 198.6)" fill="#000">% Cell survival</text>
<polyline points="334.20,193.43 346.92,194.36 359.64,190.17 372.36,187.84 385.08,200.89 397.80,206.48 410.52,215.33" fill="none" stroke="#000" stroke-width="0.765" stroke-linejoin="round"/>
<line x1="385.08" y1="194.886" x2="385.08" y2="206.886" stroke="#000" stroke-width="0.9"/>
<line x1="383.47999999999996" y1="194.886" x2="386.68" y2="194.886" stroke="#000" stroke-width="0.9"/>
<line x1="383.47999999999996" y1="206.886" x2="386.68" y2="206.886" stroke="#000" stroke-width="0.9"/>
<line x1="397.8" y1="201.47799999999998" x2="397.8" y2="211.47799999999998" stroke="#000" stroke-width="0.9"/>
<line x1="396.2" y1="201.47799999999998" x2="399.40000000000003" y2="201.47799999999998" stroke="#000" stroke-width="0.9"/>
<line x1="396.2" y1="211.47799999999998" x2="399.40000000000003" y2="211.47799999999998" stroke="#000" stroke-width="0.9"/>
<line x1="410.52" y1="210.332" x2="410.52" y2="220.332" stroke="#000" stroke-width="0.9"/>
<line x1="408.91999999999996" y1="210.332" x2="412.12" y2="210.332" stroke="#000" stroke-width="0.9"/>
<line x1="408.91999999999996" y1="220.332" x2="412.12" y2="220.332" stroke="#000" stroke-width="0.9"/>
<rect x="332.40" y="191.63" width="3.60" height="3.60" fill="#000"/>
<rect x="345.12" y="192.56" width="3.60" height="3.60" fill="#000"/>
<rect x="357.84" y="188.37" width="3.60" height="3.60" fill="#000"/>
<rect x="370.56" y="186.04" width="3.60" height="3.60" fill="#000"/>
<rect x="383.28" y="199.09" width="3.60" height="3.60" fill="#000"/>
<rect x="396.00" y="204.68" width="3.60" height="3.60" fill="#000"/>
<rect x="408.72" y="213.53" width="3.60" height="3.60" fill="#000"/>
<polyline points="334.20,199.95 346.92,199.95 359.64,203.22 372.36,205.55 385.08,208.11 397.80,207.60 410.52,211.60" fill="none" stroke="#ff1a1a" stroke-width="0.765" stroke-linejoin="round"/>
<line x1="334.2" y1="195.95399999999998" x2="334.2" y2="203.95399999999998" stroke="#ff1a1a" stroke-width="0.9"/>
<line x1="332.59999999999997" y1="195.95399999999998" x2="335.8" y2="195.95399999999998" stroke="#ff1a1a" stroke-width="0.9"/>
<line x1="332.59999999999997" y1="203.95399999999998" x2="335.8" y2="203.95399999999998" stroke="#ff1a1a" stroke-width="0.9"/>
<line x1="346.92" y1="196.95399999999998" x2="346.92" y2="202.95399999999998" stroke="#ff1a1a" stroke-width="0.9"/>
<line x1="345.32" y1="196.95399999999998" x2="348.52000000000004" y2="196.95399999999998" stroke="#ff1a1a" stroke-width="0.9"/>
<line x1="345.32" y1="202.95399999999998" x2="348.52000000000004" y2="202.95399999999998" stroke="#ff1a1a" stroke-width="0.9"/>
<line x1="359.64" y1="200.21599999999998" x2="359.64" y2="206.21599999999998" stroke="#ff1a1a" stroke-width="0.9"/>
<line x1="358.03999999999996" y1="200.21599999999998" x2="361.24" y2="200.21599999999998" stroke="#ff1a1a" stroke-width="0.9"/>
<line x1="358.03999999999996" y1="206.21599999999998" x2="361.24" y2="206.21599999999998" stroke="#ff1a1a" stroke-width="0.9"/>
<line x1="372.36" y1="202.546" x2="372.36" y2="208.546" stroke="#ff1a1a" stroke-width="0.9"/>
<line x1="370.76" y1="202.546" x2="373.96000000000004" y2="202.546" stroke="#ff1a1a" stroke-width="0.9"/>
<line x1="370.76" y1="208.546" x2="373.96000000000004" y2="208.546" stroke="#ff1a1a" stroke-width="0.9"/>
<line x1="385.08" y1="205.60899999999998" x2="385.08" y2="210.60899999999998" stroke="#ff1a1a" stroke-width="0.9"/>
<line x1="383.47999999999996" y1="205.60899999999998" x2="386.68" y2="205.60899999999998" stroke="#ff1a1a" stroke-width="0.9"/>
<line x1="383.47999999999996" y1="210.60899999999998" x2="386.68" y2="210.60899999999998" stroke="#ff1a1a" stroke-width="0.9"/>
<polygon points="334.20,197.88 336.18,201.39 332.22,201.39" fill="#ff1a1a"/>
<polygon points="346.92,197.88 348.90,201.39 344.94,201.39" fill="#ff1a1a"/>
<polygon points="359.64,201.15 361.62,204.66 357.66,204.66" fill="#ff1a1a"/>
<polygon points="372.36,203.48 374.34,206.99 370.38,206.99" fill="#ff1a1a"/>
<polygon points="385.08,206.04 387.06,209.55 383.10,209.55" fill="#ff1a1a"/>
<polygon points="397.80,205.53 399.78,209.04 395.82,209.04" fill="#ff1a1a"/>
<polygon points="410.52,209.53 412.50,213.04 408.54,213.04" fill="#ff1a1a"/>
<polyline points="334.20,198.09 346.92,199.49 359.64,199.95 372.36,204.61 385.08,207.60 397.80,207.08 410.52,206.48" fill="none" stroke="#1a1aff" stroke-width="0.765" stroke-linejoin="round"/>
<line x1="410.52" y1="203.47799999999998" x2="410.52" y2="209.47799999999998" stroke="#1a1aff" stroke-width="0.9"/>
<line x1="408.91999999999996" y1="203.47799999999998" x2="412.12" y2="203.47799999999998" stroke="#1a1aff" stroke-width="0.9"/>
<line x1="408.91999999999996" y1="209.47799999999998" x2="412.12" y2="209.47799999999998" stroke="#1a1aff" stroke-width="0.9"/>
<polygon points="334.20,196.02 336.18,199.53 332.22,199.53" fill="#1a1aff"/>
<polygon points="346.92,197.42 348.90,200.93 344.94,200.93" fill="#1a1aff"/>
<polygon points="359.64,197.88 361.62,201.39 357.66,201.39" fill="#1a1aff"/>
<polygon points="372.36,202.54 374.34,206.05 370.38,206.05" fill="#1a1aff"/>
<polygon points="385.08,205.53 387.06,209.04 383.10,209.04" fill="#1a1aff"/>
<polygon points="397.80,205.01 399.78,208.52 395.82,208.52" fill="#1a1aff"/>
<polygon points="410.52,204.41 412.50,207.92 408.54,207.92" fill="#1a1aff"/>
<line x1="422.5" y1="196.9" x2="430.6" y2="196.9" stroke="#000" stroke-width="0.8"/>
<rect x="425.05" y="195.40" width="3.00" height="3.00" fill="#000"/>
<text x="434.6" y="199.636" font-size="7.6" stroke="#0a0a0a" stroke-width="0.18" fill="#0a0a0a">BNC105</text>
<line x1="422.5" y1="206.8" x2="430.6" y2="206.8" stroke="#ff1a1a" stroke-width="0.8"/>
<polygon points="426.55,205.08 428.20,208.00 424.90,208.00" fill="#ff1a1a"/>
<text x="434.6" y="209.536" font-size="7.6" stroke="#0a0a0a" stroke-width="0.18" fill="#0a0a0a">Palbociclib</text>
<line x1="422.5" y1="216.2" x2="430.6" y2="216.2" stroke="#1a1aff" stroke-width="0.8"/>
<polygon points="426.55,214.47 428.20,217.40 424.90,217.40" fill="#1a1aff"/>
<text x="434.6" y="218.93599999999998" font-size="7.6" stroke="#0a0a0a" stroke-width="0.18" fill="#0a0a0a">Bortezomib</text>
<text transform="translate(3.64,284.60) scale(0.674,1)" font-size="14.54" font-weight="bold" fill="#000">E</text>
<text x="108" y="277.8" font-size="9.3" font-weight="bold" text-anchor="middle" fill="#000">U-CH1</text>
<line x1="49.3" y1="292.7" x2="49.3" y2="370.4" stroke="#3a3a3a" stroke-width="1.3"/>
<line x1="46.3" y1="370.4" x2="49.3" y2="370.4" stroke="#3a3a3a" stroke-width="1.3"/>
<text x="45.2" y="373.892" font-size="9.7" font-weight="bold" text-anchor="end" fill="#000">0</text>
<line x1="46.3" y1="344.3" x2="49.3" y2="344.3" stroke="#3a3a3a" stroke-width="1.3"/>
<text x="45.2" y="347.79200000000003" font-size="9.7" font-weight="bold" text-anchor="end" fill="#000">50</text>
<line x1="46.3" y1="318.5" x2="49.3" y2="318.5" stroke="#3a3a3a" stroke-width="1.3"/>
<text x="45.2" y="321.992" font-size="9.7" font-weight="bold" text-anchor="end" fill="#000">100</text>
<line x1="46.3" y1="292.7" x2="49.3" y2="292.7" stroke="#3a3a3a" stroke-width="1.3"/>
<text x="45.2" y="296.192" font-size="9.7" font-weight="bold" text-anchor="end" fill="#000">150</text>
<line x1="49.3" y1="370.4" x2="165.9" y2="370.4" stroke="#3a3a3a" stroke-width="1.3"/>
<line x1="49.4" y1="370.4" x2="49.4" y2="373.4" stroke="#3a3a3a" stroke-width="1.3"/>
<text x="49.4" y="383.2" font-size="9.7" font-weight="bold" text-anchor="middle" fill="#000">0.001</text>
<line x1="78.5" y1="370.4" x2="78.5" y2="373.4" stroke="#3a3a3a" stroke-width="1.3"/>
<text x="78.5" y="383.2" font-size="9.7" font-weight="bold" text-anchor="middle" fill="#000">0.01</text>
<line x1="107.6" y1="370.4" x2="107.6" y2="373.4" stroke="#3a3a3a" stroke-width="1.3"/>
<text x="107.6" y="383.2" font-size="9.7" font-weight="bold" text-anchor="middle" fill="#000">0.1</text>
<line x1="136.8" y1="370.4" x2="136.8" y2="373.4" stroke="#3a3a3a" stroke-width="1.3"/>
<text x="136.8" y="383.2" font-size="9.7" font-weight="bold" text-anchor="middle" fill="#000">1</text>
<line x1="165.9" y1="370.4" x2="165.9" y2="373.4" stroke="#3a3a3a" stroke-width="1.3"/>
<text x="165.9" y="383.2" font-size="9.7" font-weight="bold" text-anchor="middle" fill="#000">10</text>
<text x="107.8" y="396.9" font-size="9.7" font-weight="bold" text-anchor="middle" fill="#000">Conc. μM</text>
<text x="21.7" y="326.5" font-size="9.55" font-weight="bold" text-anchor="middle" transform="rotate(-90 21.7 326.5)" fill="#000">% Cell survival</text>
<polyline points="68.30,326.97 82.20,336.02 96.10,344.03 110.00,340.41 123.90,340.93 137.80,343.72 151.70,347.29" fill="none" stroke="#000" stroke-width="0.85" stroke-linejoin="round"/>
<line x1="82.2" y1="333.0195" x2="82.2" y2="339.0195" stroke="#000" stroke-width="0.9"/>
<line x1="80.60000000000001" y1="333.0195" x2="83.8" y2="333.0195" stroke="#000" stroke-width="0.9"/>
<line x1="80.60000000000001" y1="339.0195" x2="83.8" y2="339.0195" stroke="#000" stroke-width="0.9"/>
<line x1="96.1" y1="342.03299999999996" x2="96.1" y2="346.03299999999996" stroke="#000" stroke-width="0.9"/>
<line x1="94.5" y1="342.03299999999996" x2="97.69999999999999" y2="342.03299999999996" stroke="#000" stroke-width="0.9"/>
<line x1="94.5" y1="346.03299999999996" x2="97.69999999999999" y2="346.03299999999996" stroke="#000" stroke-width="0.9"/>
<line x1="110.0" y1="334.414" x2="110.0" y2="346.414" stroke="#000" stroke-width="0.9"/>
<line x1="108.4" y1="334.414" x2="111.6" y2="334.414" stroke="#000" stroke-width="0.9"/>
<line x1="108.4" y1="346.414" x2="111.6" y2="346.414" stroke="#000" stroke-width="0.9"/>
<rect x="66.30" y="324.97" width="4.00" height="4.00" fill="#000"/>
<rect x="80.20" y="334.02" width="4.00" height="4.00" fill="#000"/>
<rect x="94.10" y="342.03" width="4.00" height="4.00" fill="#000"/>
<rect x="108.00" y="338.41" width="4.00" height="4.00" fill="#000"/>
<rect x="121.90" y="338.93" width="4.00" height="4.00" fill="#000"/>
<rect x="135.80" y="341.72" width="4.00" height="4.00" fill="#000"/>
<rect x="149.70" y="345.29" width="4.00" height="4.00" fill="#000"/>
<polyline points="68.30,334.52 82.20,337.83 96.10,341.60 110.00,345.48 123.90,348.17 137.80,349.41 151.70,353.18" fill="none" stroke="#ff1a1a" stroke-width="0.85" stroke-linejoin="round"/>
<line x1="68.3" y1="330.5202" x2="68.3" y2="338.5202" stroke="#ff1a1a" stroke-width="0.9"/>
<line x1="66.7" y1="330.5202" x2="69.89999999999999" y2="330.5202" stroke="#ff1a1a" stroke-width="0.9"/>
<line x1="66.7" y1="338.5202" x2="69.89999999999999" y2="338.5202" stroke="#ff1a1a" stroke-width="0.9"/>
<line x1="82.2" y1="335.82899999999995" x2="82.2" y2="339.82899999999995" stroke="#ff1a1a" stroke-width="0.9"/>
<line x1="80.60000000000001" y1="335.82899999999995" x2="83.8" y2="335.82899999999995" stroke="#ff1a1a" stroke-width="0.9"/>
<line x1="80.60000000000001" y1="339.82899999999995" x2="83.8" y2="339.82899999999995" stroke="#ff1a1a" stroke-width="0.9"/>
<line x1="110.0" y1="341.4806" x2="110.0" y2="349.4806" stroke="#ff1a1a" stroke-width="0.9"/>
<line x1="108.4" y1="341.4806" x2="111.6" y2="341.4806" stroke="#ff1a1a" stroke-width="0.9"/>
<line x1="108.4" y1="349.4806" x2="111.6" y2="349.4806" stroke="#ff1a1a" stroke-width="0.9"/>
<line x1="123.9" y1="343.169" x2="123.9" y2="353.169" stroke="#ff1a1a" stroke-width="0.9"/>
<line x1="122.30000000000001" y1="343.169" x2="125.5" y2="343.169" stroke="#ff1a1a" stroke-width="0.9"/>
<line x1="122.30000000000001" y1="353.169" x2="125.5" y2="353.169" stroke="#ff1a1a" stroke-width="0.9"/>
<polygon points="68.30,332.22 70.50,336.12 66.10,336.12" fill="#ff1a1a"/>
<polygon points="82.20,335.53 84.40,339.43 80.00,339.43" fill="#ff1a1a"/>
<polygon points="96.10,339.30 98.30,343.20 93.90,343.20" fill="#ff1a1a"/>
<polygon points="110.00,343.18 112.20,347.08 107.80,347.08" fill="#ff1a1a"/>
<polygon points="123.90,345.87 126.10,349.77 121.70,349.77" fill="#ff1a1a"/>
<polygon points="137.80,347.11 140.00,351.01 135.60,351.01" fill="#ff1a1a"/>
<polygon points="151.70,350.88 153.90,354.78 149.50,354.78" fill="#ff1a1a"/>
<polyline points="68.30,326.20 82.20,335.24 96.10,341.09 110.00,343.00 123.90,346.82 137.80,349.41 151.70,355.82" fill="none" stroke="#1a1aff" stroke-width="0.85" stroke-linejoin="round"/>
<line x1="151.7" y1="352.82059999999996" x2="151.7" y2="358.82059999999996" stroke="#1a1aff" stroke-width="0.9"/>
<line x1="150.1" y1="352.82059999999996" x2="153.29999999999998" y2="352.82059999999996" stroke="#1a1aff" stroke-width="0.9"/>
<line x1="150.1" y1="358.82059999999996" x2="153.29999999999998" y2="358.82059999999996" stroke="#1a1aff" stroke-width="0.9"/>
<polygon points="68.30,323.90 70.50,327.80 66.10,327.80" fill="#1a1aff"/>
<polygon points="82.20,332.94 84.40,336.84 80.00,336.84" fill="#1a1aff"/>
<polygon points="96.10,338.79 98.30,342.69 93.90,342.69" fill="#1a1aff"/>
<polygon points="110.00,340.70 112.20,344.60 107.80,344.60" fill="#1a1aff"/>
<polygon points="123.90,344.52 126.10,348.42 121.70,348.42" fill="#1a1aff"/>
<polygon points="137.80,347.11 140.00,351.01 135.60,351.01" fill="#1a1aff"/>
<polygon points="151.70,353.52 153.90,357.42 149.50,357.42" fill="#1a1aff"/>
<line x1="164.7" y1="325.7" x2="174.2" y2="325.7" stroke="#000" stroke-width="0.8"/>
<rect x="167.75" y="324.00" width="3.40" height="3.40" fill="#000"/>
<text x="178.3" y="328.76" font-size="8.5" stroke="#0a0a0a" stroke-width="0.18" fill="#0a0a0a">BNC105</text>
<line x1="164.7" y1="337" x2="174.2" y2="337" stroke="#ff1a1a" stroke-width="0.8"/>
<polygon points="169.45,335.05 171.32,338.36 167.58,338.36" fill="#ff1a1a"/>
<text x="178.3" y="340.06" font-size="8.5" stroke="#0a0a0a" stroke-width="0.18" fill="#0a0a0a">Palbociclib</text>
<line x1="164.7" y1="347.7" x2="174.2" y2="347.7" stroke="#1a1aff" stroke-width="0.8"/>
<polygon points="169.45,345.75 171.32,349.06 167.58,349.06" fill="#1a1aff"/>
<text x="178.3" y="350.76" font-size="8.5" stroke="#0a0a0a" stroke-width="0.18" fill="#0a0a0a">Bortezomib</text>
<text transform="translate(270.84,284.30) scale(0.721,1)" font-size="13.66" font-weight="bold" fill="#000">F</text>
<text x="370.9" y="279.3" font-size="6.8" font-weight="bold" text-anchor="middle" fill="#000">U-CH2</text>
<line x1="316.8" y1="292.1" x2="316.8" y2="364.4" stroke="#3a3a3a" stroke-width="1.3"/>
<line x1="314.0" y1="364.3" x2="316.8" y2="364.3" stroke="#3a3a3a" stroke-width="1.3"/>
<text x="312.9" y="367.54" font-size="9.0" font-weight="bold" text-anchor="end" fill="#000">0</text>
<line x1="314.0" y1="340.3" x2="316.8" y2="340.3" stroke="#3a3a3a" stroke-width="1.3"/>
<text x="312.9" y="343.54" font-size="9.0" font-weight="bold" text-anchor="end" fill="#000">50</text>
<line x1="314.0" y1="316.2" x2="316.8" y2="316.2" stroke="#3a3a3a" stroke-width="1.3"/>
<text x="312.9" y="319.44" font-size="9.0" font-weight="bold" text-anchor="end" fill="#000">100</text>
<line x1="314.0" y1="292.1" x2="316.8" y2="292.1" stroke="#3a3a3a" stroke-width="1.3"/>
<text x="312.9" y="295.34000000000003" font-size="9.0" font-weight="bold" text-anchor="end" fill="#000">150</text>
<line x1="316.8" y1="364.4" x2="425.1" y2="364.4" stroke="#3a3a3a" stroke-width="1.3"/>
<line x1="316.8" y1="364.4" x2="316.8" y2="367.2" stroke="#3a3a3a" stroke-width="1.3"/>
<text x="316.8" y="376.6" font-size="9.0" font-weight="bold" text-anchor="middle" fill="#000">0.001</text>
<line x1="343.9" y1="364.4" x2="343.9" y2="367.2" stroke="#3a3a3a" stroke-width="1.3"/>
<text x="343.9" y="376.6" font-size="9.0" font-weight="bold" text-anchor="middle" fill="#000">0.01</text>
<line x1="371.0" y1="364.4" x2="371.0" y2="367.2" stroke="#3a3a3a" stroke-width="1.3"/>
<text x="371.0" y="376.6" font-size="9.0" font-weight="bold" text-anchor="middle" fill="#000">0.1</text>
<line x1="398.0" y1="364.4" x2="398.0" y2="367.2" stroke="#3a3a3a" stroke-width="1.3"/>
<text x="398.0" y="376.6" font-size="9.0" font-weight="bold" text-anchor="middle" fill="#000">1</text>
<line x1="425.1" y1="364.4" x2="425.1" y2="367.2" stroke="#3a3a3a" stroke-width="1.3"/>
<text x="425.1" y="376.6" font-size="9.0" font-weight="bold" text-anchor="middle" fill="#000">10</text>
<text x="370.9" y="388.0" font-size="9.0" font-weight="bold" text-anchor="middle" fill="#000">Conc. μM</text>
<text x="291.8" y="322.5" font-size="8.8" font-weight="bold" text-anchor="middle" transform="rotate(-90 291.8 322.5)" fill="#000">% Cell survival</text>
<polyline points="334.70,318.12 347.53,318.12 360.36,331.59 373.19,334.00 386.02,339.29 398.85,342.17 411.68,344.58" fill="none" stroke="#000" stroke-width="0.85" stroke-linejoin="round"/>
<line x1="334.7" y1="314.124" x2="334.7" y2="322.124" stroke="#000" stroke-width="0.9"/>
<line x1="333.09999999999997" y1="314.124" x2="336.3" y2="314.124" stroke="#000" stroke-width="0.9"/>
<line x1="333.09999999999997" y1="322.124" x2="336.3" y2="322.124" stroke="#000" stroke-width="0.9"/>
<line x1="347.53" y1="312.124" x2="347.53" y2="324.124" stroke="#000" stroke-width="0.9"/>
<line x1="345.92999999999995" y1="312.124" x2="349.13" y2="312.124" stroke="#000" stroke-width="0.9"/>
<line x1="345.92999999999995" y1="324.124" x2="349.13" y2="324.124" stroke="#000" stroke-width="0.9"/>
<line x1="373.19" y1="332.497" x2="373.19" y2="335.497" stroke="#000" stroke-width="0.9"/>
<line x1="371.59" y1="332.497" x2="374.79" y2="332.497" stroke="#000" stroke-width="0.9"/>
<line x1="371.59" y1="335.497" x2="374.79" y2="335.497" stroke="#000" stroke-width="0.9"/>
<line x1="386.02" y1="336.288" x2="386.02" y2="342.288" stroke="#000" stroke-width="0.9"/>
<line x1="384.41999999999996" y1="336.288" x2="387.62" y2="336.288" stroke="#000" stroke-width="0.9"/>
<line x1="384.41999999999996" y1="342.288" x2="387.62" y2="342.288" stroke="#000" stroke-width="0.9"/>
<line x1="398.85" y1="340.17400000000004" x2="398.85" y2="344.17400000000004" stroke="#000" stroke-width="0.9"/>
<line x1="397.25" y1="340.17400000000004" x2="400.45000000000005" y2="340.17400000000004" stroke="#000" stroke-width="0.9"/>
<line x1="397.25" y1="344.17400000000004" x2="400.45000000000005" y2="344.17400000000004" stroke="#000" stroke-width="0.9"/>
<line x1="411.68" y1="341.579" x2="411.68" y2="347.579" stroke="#000" stroke-width="0.9"/>
<line x1="410.08" y1="341.579" x2="413.28000000000003" y2="341.579" stroke="#000" stroke-width="0.9"/>
<line x1="410.08" y1="347.579" x2="413.28000000000003" y2="347.579" stroke="#000" stroke-width="0.9"/>
<rect x="332.70" y="316.12" width="4.00" height="4.00" fill="#000"/>
<rect x="345.53" y="316.12" width="4.00" height="4.00" fill="#000"/>
<rect x="358.36" y="329.59" width="4.00" height="4.00" fill="#000"/>
<rect x="371.19" y="332.00" width="4.00" height="4.00" fill="#000"/>
<rect x="384.02" y="337.29" width="4.00" height="4.00" fill="#000"/>
<rect x="396.85" y="340.17" width="4.00" height="4.00" fill="#000"/>
<rect x="409.68" y="342.58" width="4.00" height="4.00" fill="#000"/>
<polyline points="334.70,324.38 347.53,329.19 360.36,334.00 373.19,336.40 386.02,339.77 398.85,342.17 411.68,343.62" fill="none" stroke="#ff1a1a" stroke-width="0.85" stroke-linejoin="round"/>
<line x1="334.7" y1="322.377" x2="334.7" y2="326.377" stroke="#ff1a1a" stroke-width="0.9"/>
<line x1="333.09999999999997" y1="322.377" x2="336.3" y2="322.377" stroke="#ff1a1a" stroke-width="0.9"/>
<line x1="333.09999999999997" y1="326.377" x2="336.3" y2="326.377" stroke="#ff1a1a" stroke-width="0.9"/>
<polygon points="334.70,322.19 336.79,325.90 332.61,325.90" fill="#ff1a1a"/>
<polygon points="347.53,327.00 349.62,330.71 345.44,330.71" fill="#ff1a1a"/>
<polygon points="360.36,331.81 362.45,335.52 358.27,335.52" fill="#ff1a1a"/>
<polygon points="373.19,334.22 375.28,337.92 371.10,337.92" fill="#ff1a1a"/>
<polygon points="386.02,337.58 388.11,341.29 383.93,341.29" fill="#ff1a1a"/>
<polygon points="398.85,339.99 400.94,343.69 396.76,343.69" fill="#ff1a1a"/>
<polygon points="411.68,341.43 413.77,345.14 409.59,345.14" fill="#ff1a1a"/>
<polyline points="334.70,330.15 347.53,335.92 360.36,340.25 373.19,344.10 386.02,349.39 398.85,351.31 411.68,353.72" fill="none" stroke="#1a1aff" stroke-width="0.85" stroke-linejoin="round"/>
<line x1="334.7" y1="327.149" x2="334.7" y2="333.149" stroke="#1a1aff" stroke-width="0.9"/>
<line x1="333.09999999999997" y1="327.149" x2="336.3" y2="327.149" stroke="#1a1aff" stroke-width="0.9"/>
<line x1="333.09999999999997" y1="333.149" x2="336.3" y2="333.149" stroke="#1a1aff" stroke-width="0.9"/>
<line x1="386.02" y1="346.389" x2="386.02" y2="352.389" stroke="#1a1aff" stroke-width="0.9"/>
<line x1="384.41999999999996" y1="346.389" x2="387.62" y2="346.389" stroke="#1a1aff" stroke-width="0.9"/>
<line x1="384.41999999999996" y1="352.389" x2="387.62" y2="352.389" stroke="#1a1aff" stroke-width="0.9"/>
<line x1="398.85" y1="349.313" x2="398.85" y2="353.313" stroke="#1a1aff" stroke-width="0.9"/>
<line x1="397.25" y1="349.313" x2="400.45000000000005" y2="349.313" stroke="#1a1aff" stroke-width="0.9"/>
<line x1="397.25" y1="353.313" x2="400.45000000000005" y2="353.313" stroke="#1a1aff" stroke-width="0.9"/>
<polygon points="334.70,327.96 336.79,331.67 332.61,331.67" fill="#1a1aff"/>
<polygon points="347.53,333.74 349.62,337.44 345.44,337.44" fill="#1a1aff"/>
<polygon points="360.36,338.06 362.45,341.77 358.27,341.77" fill="#1a1aff"/>
<polygon points="373.19,341.91 375.28,345.62 371.10,345.62" fill="#1a1aff"/>
<polygon points="386.02,347.20 388.11,350.91 383.93,350.91" fill="#1a1aff"/>
<polygon points="398.85,349.13 400.94,352.83 396.76,352.83" fill="#1a1aff"/>
<polygon points="411.68,351.53 413.77,355.24 409.59,355.24" fill="#1a1aff"/>
<line x1="424.4" y1="322.5" x2="432.7" y2="322.5" stroke="#000" stroke-width="0.8"/>
<rect x="427.05" y="321.00" width="3.00" height="3.00" fill="#000"/>
<text x="436.9" y="325.236" font-size="7.6" stroke="#0a0a0a" stroke-width="0.18" fill="#0a0a0a">BNC105</text>
<line x1="424.4" y1="332.4" x2="432.7" y2="332.4" stroke="#ff1a1a" stroke-width="0.8"/>
<polygon points="428.55,330.67 430.20,333.60 426.90,333.60" fill="#ff1a1a"/>
<text x="436.9" y="335.13599999999997" font-size="7.6" stroke="#0a0a0a" stroke-width="0.18" fill="#0a0a0a">Palbociclib</text>
<line x1="424.4" y1="342.0" x2="432.7" y2="342.0" stroke="#1a1aff" stroke-width="0.8"/>
<polygon points="428.55,340.27 430.20,343.20 426.90,343.20" fill="#1a1aff"/>
<text x="436.9" y="344.736" font-size="7.6" stroke="#0a0a0a" stroke-width="0.18" fill="#0a0a0a">Bortezomib</text>
<text transform="translate(2.11,410.30) scale(0.881,1)" font-size="13.46" font-weight="bold" fill="#000">G</text>
<text x="109.8" y="412.6" font-size="7.2" font-weight="bold" text-anchor="middle" fill="#000">U-CH2</text>
<line x1="50.8" y1="427.1" x2="50.8" y2="506.2" stroke="#3a3a3a" stroke-width="1.3"/>
<line x1="47.8" y1="506.2" x2="50.8" y2="506.2" stroke="#3a3a3a" stroke-width="1.3"/>
<text x="46.6" y="509.692" font-size="9.7" font-weight="bold" text-anchor="end" fill="#000">0</text>
<line x1="47.8" y1="479.7" x2="50.8" y2="479.7" stroke="#3a3a3a" stroke-width="1.3"/>
<text x="46.6" y="483.192" font-size="9.7" font-weight="bold" text-anchor="end" fill="#000">50</text>
<line x1="47.8" y1="453.5" x2="50.8" y2="453.5" stroke="#3a3a3a" stroke-width="1.3"/>
<text x="46.6" y="456.992" font-size="9.7" font-weight="bold" text-anchor="end" fill="#000">100</text>
<line x1="47.8" y1="427.1" x2="50.8" y2="427.1" stroke="#3a3a3a" stroke-width="1.3"/>
<text x="46.6" y="430.59200000000004" font-size="9.7" font-weight="bold" text-anchor="end" fill="#000">150</text>
<line x1="50.8" y1="506.2" x2="169.2" y2="506.2" stroke="#3a3a3a" stroke-width="1.3"/>
<line x1="50.8" y1="506.2" x2="50.8" y2="509.2" stroke="#3a3a3a" stroke-width="1.3"/>
<text x="50.8" y="519.8" font-size="9.7" font-weight="bold" text-anchor="middle" fill="#000">0.001</text>
<line x1="80.4" y1="506.2" x2="80.4" y2="509.2" stroke="#3a3a3a" stroke-width="1.3"/>
<text x="80.4" y="519.8" font-size="9.7" font-weight="bold" text-anchor="middle" fill="#000">0.01</text>
<line x1="110.0" y1="506.2" x2="110.0" y2="509.2" stroke="#3a3a3a" stroke-width="1.3"/>
<text x="110.0" y="519.8" font-size="9.7" font-weight="bold" text-anchor="middle" fill="#000">0.1</text>
<line x1="139.6" y1="506.2" x2="139.6" y2="509.2" stroke="#3a3a3a" stroke-width="1.3"/>
<text x="139.6" y="519.8" font-size="9.7" font-weight="bold" text-anchor="middle" fill="#000">1</text>
<line x1="169.2" y1="506.2" x2="169.2" y2="509.2" stroke="#3a3a3a" stroke-width="1.3"/>
<text x="169.2" y="519.8" font-size="9.7" font-weight="bold" text-anchor="middle" fill="#000">10</text>
<text x="110.0" y="533.6" font-size="9.7" font-weight="bold" text-anchor="middle" fill="#000">Conc. μM</text>
<text x="22.9" y="461.5" font-size="9.7" font-weight="bold" text-anchor="middle" transform="rotate(-90 22.9 461.5)" fill="#000">% Cell survival</text>
<polyline points="70.30,459.82 84.43,470.21 98.56,474.90 112.69,477.21 126.82,481.33 140.95,483.80 155.08,490.02" fill="none" stroke="#000" stroke-width="0.85" stroke-linejoin="round"/>
<line x1="70.3" y1="456.82399999999996" x2="70.3" y2="462.82399999999996" stroke="#000" stroke-width="0.9"/>
<line x1="68.7" y1="456.82399999999996" x2="71.89999999999999" y2="456.82399999999996" stroke="#000" stroke-width="0.9"/>
<line x1="68.7" y1="462.82399999999996" x2="71.89999999999999" y2="462.82399999999996" stroke="#000" stroke-width="0.9"/>
<line x1="155.07999999999998" y1="486.0211" x2="155.07999999999998" y2="494.0211" stroke="#000" stroke-width="0.9"/>
<line x1="153.48" y1="486.0211" x2="156.67999999999998" y2="486.0211" stroke="#000" stroke-width="0.9"/>
<line x1="153.48" y1="494.0211" x2="156.67999999999998" y2="494.0211" stroke="#000" stroke-width="0.9"/>
<rect x="68.30" y="457.82" width="4.00" height="4.00" fill="#000"/>
<rect x="82.43" y="468.21" width="4.00" height="4.00" fill="#000"/>
<rect x="96.56" y="472.90" width="4.00" height="4.00" fill="#000"/>
<rect x="110.69" y="475.21" width="4.00" height="4.00" fill="#000"/>
<rect x="124.82" y="479.33" width="4.00" height="4.00" fill="#000"/>
<rect x="138.95" y="481.80" width="4.00" height="4.00" fill="#000"/>
<rect x="153.08" y="488.02" width="4.00" height="4.00" fill="#000"/>
<polyline points="70.30,461.93 84.43,468.89 98.56,474.05 112.69,492.60 126.82,496.40 140.95,498.93 155.08,500.30" fill="none" stroke="#ff1a1a" stroke-width="0.85" stroke-linejoin="round"/>
<line x1="70.3" y1="458.932" x2="70.3" y2="464.932" stroke="#ff1a1a" stroke-width="0.9"/>
<line x1="68.7" y1="458.932" x2="71.89999999999999" y2="458.932" stroke="#ff1a1a" stroke-width="0.9"/>
<line x1="68.7" y1="464.932" x2="71.89999999999999" y2="464.932" stroke="#ff1a1a" stroke-width="0.9"/>
<line x1="112.69" y1="489.60339999999997" x2="112.69" y2="495.60339999999997" stroke="#ff1a1a" stroke-width="0.9"/>
<line x1="111.09" y1="489.60339999999997" x2="114.28999999999999" y2="489.60339999999997" stroke="#ff1a1a" stroke-width="0.9"/>
<line x1="111.09" y1="495.60339999999997" x2="114.28999999999999" y2="495.60339999999997" stroke="#ff1a1a" stroke-width="0.9"/>
<polygon points="70.30,459.63 72.50,463.53 68.10,463.53" fill="#ff1a1a"/>
<polygon points="84.43,466.59 86.63,470.49 82.23,470.49" fill="#ff1a1a"/>
<polygon points="98.56,471.75 100.76,475.65 96.36,475.65" fill="#ff1a1a"/>
<polygon points="112.69,490.30 114.89,494.20 110.49,494.20" fill="#ff1a1a"/>
<polygon points="126.82,494.10 129.02,498.00 124.62,498.00" fill="#ff1a1a"/>
<polygon points="140.95,496.63 143.15,500.53 138.75,500.53" fill="#ff1a1a"/>
<polygon points="155.08,498.00 157.28,501.90 152.88,501.90" fill="#ff1a1a"/>
<polyline points="70.30,456.13 84.43,470.21 98.56,486.17 112.69,490.81 126.82,496.71 140.95,498.51 155.08,498.51" fill="none" stroke="#1a1aff" stroke-width="0.85" stroke-linejoin="round"/>
<line x1="70.3" y1="450.135" x2="70.3" y2="462.135" stroke="#1a1aff" stroke-width="0.9"/>
<line x1="68.7" y1="450.135" x2="71.89999999999999" y2="450.135" stroke="#1a1aff" stroke-width="0.9"/>
<line x1="68.7" y1="462.135" x2="71.89999999999999" y2="462.135" stroke="#1a1aff" stroke-width="0.9"/>
<line x1="84.42999999999999" y1="463.2059" x2="84.42999999999999" y2="477.2059" stroke="#1a1aff" stroke-width="0.9"/>
<line x1="82.83" y1="463.2059" x2="86.02999999999999" y2="463.2059" stroke="#1a1aff" stroke-width="0.9"/>
<line x1="82.83" y1="477.2059" x2="86.02999999999999" y2="477.2059" stroke="#1a1aff" stroke-width="0.9"/>
<line x1="112.69" y1="485.8116" x2="112.69" y2="495.8116" stroke="#1a1aff" stroke-width="0.9"/>
<line x1="111.09" y1="485.8116" x2="114.28999999999999" y2="485.8116" stroke="#1a1aff" stroke-width="0.9"/>
<line x1="111.09" y1="495.8116" x2="114.28999999999999" y2="495.8116" stroke="#1a1aff" stroke-width="0.9"/>
<polygon points="70.30,453.83 72.50,457.74 68.10,457.74" fill="#1a1aff"/>
<polygon points="84.43,467.91 86.63,471.81 82.23,471.81" fill="#1a1aff"/>
<polygon points="98.56,483.87 100.76,487.77 96.36,487.77" fill="#1a1aff"/>
<polygon points="112.69,488.51 114.89,492.41 110.49,492.41" fill="#1a1aff"/>
<polygon points="126.82,494.41 129.02,498.31 124.62,498.31" fill="#1a1aff"/>
<polygon points="140.95,496.21 143.15,500.11 138.75,500.11" fill="#1a1aff"/>
<polygon points="155.08,496.21 157.28,500.11 152.88,500.11" fill="#1a1aff"/>
<line x1="167.8" y1="460" x2="177.3" y2="460" stroke="#000" stroke-width="0.8"/>
<rect x="170.85" y="458.30" width="3.40" height="3.40" fill="#000"/>
<text x="182" y="463.06" font-size="8.5" stroke="#0a0a0a" stroke-width="0.18" fill="#0a0a0a">Bortezomib</text>
<line x1="167.8" y1="471.1" x2="177.3" y2="471.1" stroke="#ff1a1a" stroke-width="0.8"/>
<polygon points="172.55,469.15 174.42,472.46 170.68,472.46" fill="#ff1a1a"/>
<text x="182" y="474.16" font-size="8.5" stroke="#0a0a0a" stroke-width="0.18" fill="#0a0a0a">BNC105+Bortezomib</text>
<line x1="167.8" y1="482.2" x2="177.3" y2="482.2" stroke="#1a1aff" stroke-width="0.8"/>
<polygon points="172.55,480.25 174.42,483.56 170.68,483.56" fill="#1a1aff"/>
<text x="182" y="485.26" font-size="8.5" stroke="#0a0a0a" stroke-width="0.18" fill="#0a0a0a">Palbociclib+Bortezomi</text>
<text transform="translate(269.31,410.60) scale(0.878,1)" font-size="13.37" font-weight="bold" fill="#000">H</text>
<line x1="319.4" y1="402.5" x2="319.4" y2="466.2" stroke="#8a8a8a" stroke-width="1.1"/>
<line x1="316.8" y1="462.4" x2="319.4" y2="462.4" stroke="#8a8a8a" stroke-width="1.0"/>
<text x="316.4" y="465.04999999999995" font-size="7.4" text-anchor="end" fill="#4a4a4a" stroke="#4a4a4a" stroke-width="0.25">0</text>
<line x1="316.8" y1="443.1" x2="319.4" y2="443.1" stroke="#8a8a8a" stroke-width="1.0"/>
<text x="316.4" y="445.75" font-size="7.4" text-anchor="end" fill="#4a4a4a" stroke="#4a4a4a" stroke-width="0.25">50</text>
<line x1="316.8" y1="423.8" x2="319.4" y2="423.8" stroke="#8a8a8a" stroke-width="1.0"/>
<text x="316.4" y="426.45" font-size="7.4" text-anchor="end" fill="#4a4a4a" stroke="#4a4a4a" stroke-width="0.25">100</text>
<line x1="316.8" y1="404.3" x2="319.4" y2="404.3" stroke="#8a8a8a" stroke-width="1.0"/>
<text x="316.4" y="406.95" font-size="7.4" text-anchor="end" fill="#4a4a4a" stroke="#4a4a4a" stroke-width="0.25">150</text>
<line x1="324.0" y1="471.3" x2="385.8" y2="471.3" stroke="#8a8a8a" stroke-width="1.1"/>
<line x1="324.4" y1="469.2" x2="324.4" y2="471.3" stroke="#8a8a8a" stroke-width="1.0"/>
<text x="323.7" y="480.6" font-size="8.3" text-anchor="middle" fill="#2a2a2a" stroke="#2a2a2a" stroke-width="0.35">−10</text>
<line x1="344.3" y1="469.2" x2="344.3" y2="471.3" stroke="#8a8a8a" stroke-width="1.0"/>
<text x="343.6" y="480.6" font-size="8.3" text-anchor="middle" fill="#2a2a2a" stroke="#2a2a2a" stroke-width="0.35">−8</text>
<line x1="364.6" y1="469.2" x2="364.6" y2="471.3" stroke="#8a8a8a" stroke-width="1.0"/>
<text x="363.90000000000003" y="480.6" font-size="8.3" text-anchor="middle" fill="#2a2a2a" stroke="#2a2a2a" stroke-width="0.35">−6</text>
<line x1="385.0" y1="469.2" x2="385.0" y2="471.3" stroke="#8a8a8a" stroke-width="1.0"/>
<text x="384.3" y="480.6" font-size="8.3" text-anchor="middle" fill="#2a2a2a" stroke="#2a2a2a" stroke-width="0.35">−4</text>
<text x="354.8" y="491.9" font-size="8.7" font-weight="bold" text-anchor="middle" fill="#333">log[con.], M</text>
<text x="296.6" y="432.0" font-size="8.1" font-weight="bold" text-anchor="middle" transform="rotate(-90 296.6 432.0)" fill="#333">% Cell Viability</text>
<polyline points="326.50,423.33 327.31,423.35 328.12,423.38 328.93,423.42 329.73,423.49 330.54,423.60 331.35,423.77 332.16,424.03 332.97,424.43 333.77,425.05 334.58,425.96 335.39,427.31 336.20,429.23 337.01,431.82 337.82,435.12 338.62,439.00 339.43,443.16 340.24,447.20 341.05,450.77 341.86,453.67 342.67,455.86 343.48,457.43 344.28,458.51 345.09,459.24 345.90,459.72 346.71,460.03 347.52,460.24 348.32,460.37 349.13,460.45 349.94,460.50 350.75,460.54 351.56,460.56 352.37,460.58 353.18,460.58 353.98,460.59 354.79,460.59 355.60,460.60 356.41,460.60 357.22,460.60 358.02,460.60 358.83,460.60 359.64,460.60 360.45,460.60 361.26,460.60 362.07,460.60 362.88,460.60 363.68,460.60 364.49,460.60 365.30,460.60 366.11,460.60 366.92,460.60 367.73,460.60 368.53,460.60 369.34,460.60 370.15,460.60 370.96,460.60 371.77,460.60 372.57,460.60 373.38,460.60 374.19,460.60 375.00,460.60" fill="none" stroke="#5a5aff" stroke-width="0.8" stroke-linejoin="round"/>
<polyline points="326.50,424.00 327.23,424.00 327.97,424.01 328.70,424.01 329.43,424.01 330.17,424.01 330.90,424.02 331.63,424.02 332.37,424.03 333.10,424.04 333.83,424.05 334.57,424.06 335.30,424.08 336.03,424.10 336.77,424.13 337.50,424.17 338.23,424.23 338.97,424.29 339.70,424.38 340.43,424.49 341.17,424.64 341.90,424.83 342.63,425.07 343.37,425.37 344.10,425.76 344.83,426.26 345.57,426.88 346.30,427.66 347.03,428.62 347.77,429.79 348.50,431.19 349.23,432.83 349.97,434.72 350.70,436.82 351.43,439.10 352.17,441.49 352.90,443.93 353.63,446.31 354.37,448.58 355.10,450.66 355.83,452.53 356.57,454.15 357.30,455.52 358.03,456.67 358.77,457.61 359.50,458.38 360.23,458.99 360.97,459.48 361.70,459.86 362.43,460.16 363.17,460.39 363.90,460.58 364.63,460.72 365.37,460.83 366.10,460.91 366.83,460.98 367.57,461.03 368.30,461.07 369.03,461.10 369.77,461.12 370.50,461.14" fill="none" stroke="#d06060" stroke-width="0.8" stroke-linejoin="round"/>
<polyline points="326.50,423.50 327.48,423.50 328.47,423.50 329.45,423.50 330.43,423.50 331.42,423.51 332.40,423.51 333.38,423.51 334.37,423.51 335.35,423.51 336.33,423.51 337.32,423.52 338.30,423.52 339.28,423.53 340.27,423.53 341.25,423.54 342.23,423.55 343.22,423.56 344.20,423.57 345.18,423.58 346.17,423.60 347.15,423.62 348.13,423.65 349.12,423.68 350.10,423.72 351.08,423.77 352.07,423.82 353.05,423.89 354.03,423.98 355.02,424.08 356.00,424.20 356.98,424.35 357.97,424.53 358.95,424.75 359.93,425.01 360.92,425.32 361.90,425.69 362.88,426.14 363.87,426.67 364.85,427.29 365.83,428.01 366.82,428.86 367.80,429.84 368.78,430.95 369.77,432.21 370.75,433.61 371.73,435.15 372.72,436.82 373.70,438.59 374.68,440.45 375.67,442.35 376.65,444.27 377.63,446.16 378.62,447.99 379.60,449.73 380.58,451.36 381.57,452.86 382.55,454.21 383.53,455.42 384.52,456.49 385.50,457.43" fill="none" stroke="#5fb0b0" stroke-width="0.8" stroke-linejoin="round"/>
<line x1="336.0" y1="420.6" x2="336.0" y2="425.0" stroke="#333" stroke-width="0.8"/>
<line x1="334.8" y1="420.6" x2="337.2" y2="420.6" stroke="#333" stroke-width="0.8"/>
<line x1="334.8" y1="425.0" x2="337.2" y2="425.0" stroke="#333" stroke-width="0.8"/>
<line x1="341.0" y1="418.2" x2="341.0" y2="423.8" stroke="#333" stroke-width="0.8"/>
<line x1="339.8" y1="418.2" x2="342.2" y2="418.2" stroke="#333" stroke-width="0.8"/>
<line x1="339.8" y1="423.8" x2="342.2" y2="423.8" stroke="#333" stroke-width="0.8"/>
<line x1="346.2" y1="415.6" x2="346.2" y2="422.4" stroke="#333" stroke-width="0.8"/>
<line x1="345.0" y1="415.6" x2="347.4" y2="415.6" stroke="#333" stroke-width="0.8"/>
<line x1="345.0" y1="422.4" x2="347.4" y2="422.4" stroke="#333" stroke-width="0.8"/>
<line x1="351.0" y1="421.8" x2="351.0" y2="426.2" stroke="#333" stroke-width="0.8"/>
<line x1="349.8" y1="421.8" x2="352.2" y2="421.8" stroke="#333" stroke-width="0.8"/>
<line x1="349.8" y1="426.2" x2="352.2" y2="426.2" stroke="#333" stroke-width="0.8"/>
<line x1="370.5" y1="431.2" x2="370.5" y2="436.8" stroke="#333" stroke-width="0.8"/>
<line x1="369.3" y1="431.2" x2="371.7" y2="431.2" stroke="#333" stroke-width="0.8"/>
<line x1="369.3" y1="436.8" x2="371.7" y2="436.8" stroke="#333" stroke-width="0.8"/>
<line x1="331.2" y1="429.5" x2="331.2" y2="433.5" stroke="#333" stroke-width="0.8"/>
<line x1="330.0" y1="429.5" x2="332.4" y2="429.5" stroke="#333" stroke-width="0.8"/>
<line x1="330.0" y1="433.5" x2="332.4" y2="433.5" stroke="#333" stroke-width="0.8"/>
<line x1="336.0" y1="426.3" x2="336.0" y2="429.3" stroke="#333" stroke-width="0.8"/>
<line x1="334.8" y1="426.3" x2="337.2" y2="426.3" stroke="#333" stroke-width="0.8"/>
<line x1="334.8" y1="429.3" x2="337.2" y2="429.3" stroke="#333" stroke-width="0.8"/>
<line x1="350.5" y1="435.5" x2="350.5" y2="441.1" stroke="#333" stroke-width="0.8"/>
<line x1="349.3" y1="435.5" x2="351.7" y2="435.5" stroke="#333" stroke-width="0.8"/>
<line x1="349.3" y1="441.1" x2="351.7" y2="441.1" stroke="#333" stroke-width="0.8"/>
<line x1="336.0" y1="429.9" x2="336.0" y2="435.1" stroke="#333" stroke-width="0.8"/>
<line x1="334.8" y1="429.9" x2="337.2" y2="429.9" stroke="#333" stroke-width="0.8"/>
<line x1="334.8" y1="435.1" x2="337.2" y2="435.1" stroke="#333" stroke-width="0.8"/>
<circle cx="326.5" cy="423.3" r="2.2" fill="#2a9aa8"/>
<path d="M325.0,423.6 A1.5,1.5 0 0 0 328.0,423.6 Z" fill="#e8ffff" opacity="0.85"/>
<circle cx="336.0" cy="422.8" r="2.2" fill="#2a9aa8"/>
<path d="M334.5,423.1 A1.5,1.5 0 0 0 337.5,423.1 Z" fill="#e8ffff" opacity="0.85"/>
<circle cx="341.0" cy="421.0" r="2.2" fill="#2a9aa8"/>
<path d="M339.5,421.3 A1.5,1.5 0 0 0 342.5,421.3 Z" fill="#e8ffff" opacity="0.85"/>
<circle cx="346.2" cy="419.0" r="2.2" fill="#2a9aa8"/>
<path d="M344.7,419.3 A1.5,1.5 0 0 0 347.7,419.3 Z" fill="#e8ffff" opacity="0.85"/>
<circle cx="351.0" cy="424.5" r="2.2" fill="#2a9aa8"/>
<path d="M349.5,424.8 A1.5,1.5 0 0 0 352.5,424.8 Z" fill="#e8ffff" opacity="0.85"/>
<circle cx="356.0" cy="425.0" r="2.2" fill="#2a9aa8"/>
<path d="M354.5,425.3 A1.5,1.5 0 0 0 357.5,425.3 Z" fill="#e8ffff" opacity="0.85"/>
<circle cx="360.8" cy="434.0" r="2.2" fill="#2a9aa8"/>
<path d="M359.3,434.3 A1.5,1.5 0 0 0 362.3,434.3 Z" fill="#e8ffff" opacity="0.85"/>
<circle cx="365.5" cy="440.5" r="2.2" fill="#2a9aa8"/>
<path d="M364.0,440.8 A1.5,1.5 0 0 0 367.0,440.8 Z" fill="#e8ffff" opacity="0.85"/>
<circle cx="370.5" cy="434.0" r="2.2" fill="#2a9aa8"/>
<path d="M369.0,434.3 A1.5,1.5 0 0 0 372.0,434.3 Z" fill="#e8ffff" opacity="0.85"/>
<circle cx="375.2" cy="439.0" r="2.2" fill="#2a9aa8"/>
<path d="M373.7,439.3 A1.5,1.5 0 0 0 376.7,439.3 Z" fill="#e8ffff" opacity="0.85"/>
<circle cx="380.0" cy="451.0" r="2.2" fill="#2a9aa8"/>
<path d="M378.5,451.3 A1.5,1.5 0 0 0 381.5,451.3 Z" fill="#e8ffff" opacity="0.85"/>
<circle cx="385.0" cy="459.5" r="2.2" fill="#2a9aa8"/>
<path d="M383.5,459.8 A1.5,1.5 0 0 0 386.5,459.8 Z" fill="#e8ffff" opacity="0.85"/>
<circle cx="326.5" cy="424.0" r="1.9" fill="#fff" stroke="#c83a3a" stroke-width="1.1"/>
<circle cx="331.2" cy="431.5" r="1.9" fill="#fff" stroke="#c83a3a" stroke-width="1.1"/>
<circle cx="336.0" cy="427.8" r="1.9" fill="#fff" stroke="#c83a3a" stroke-width="1.1"/>
<circle cx="341.0" cy="428.0" r="1.9" fill="#fff" stroke="#c83a3a" stroke-width="1.1"/>
<circle cx="345.8" cy="431.5" r="1.9" fill="#fff" stroke="#c83a3a" stroke-width="1.1"/>
<circle cx="350.5" cy="438.3" r="1.9" fill="#fff" stroke="#c83a3a" stroke-width="1.1"/>
<circle cx="355.5" cy="448.5" r="1.9" fill="#fff" stroke="#c83a3a" stroke-width="1.1"/>
<circle cx="360.0" cy="456.0" r="1.9" fill="#fff" stroke="#c83a3a" stroke-width="1.1"/>
<circle cx="365.0" cy="459.5" r="1.9" fill="#fff" stroke="#c83a3a" stroke-width="1.1"/>
<circle cx="370.0" cy="461.0" r="1.9" fill="#fff" stroke="#c83a3a" stroke-width="1.1"/>
<circle cx="326.5" cy="423.0" r="2.2" fill="#1a1aff"/>
<path d="M326.7,421.5 A1.5,1.5 0 0 1 326.7,424.5 Z" fill="#fff" opacity="0.85"/>
<circle cx="331.2" cy="433.8" r="2.2" fill="#1a1aff"/>
<path d="M331.4,432.3 A1.5,1.5 0 0 1 331.4,435.3 Z" fill="#fff" opacity="0.85"/>
<circle cx="336.0" cy="432.5" r="2.2" fill="#1a1aff"/>
<path d="M336.2,431.0 A1.5,1.5 0 0 1 336.2,434.0 Z" fill="#fff" opacity="0.85"/>
<circle cx="340.8" cy="450.5" r="2.2" fill="#1a1aff"/>
<path d="M341.0,449.0 A1.5,1.5 0 0 1 341.0,452.0 Z" fill="#fff" opacity="0.85"/>
<circle cx="345.8" cy="457.5" r="2.2" fill="#1a1aff"/>
<path d="M346.0,456.0 A1.5,1.5 0 0 1 346.0,459.0 Z" fill="#fff" opacity="0.85"/>
<circle cx="350.5" cy="459.0" r="2.2" fill="#1a1aff"/>
<path d="M350.7,457.5 A1.5,1.5 0 0 1 350.7,460.5 Z" fill="#fff" opacity="0.85"/>
<circle cx="355.5" cy="460.0" r="2.2" fill="#1a1aff"/>
<path d="M355.7,458.5 A1.5,1.5 0 0 1 355.7,461.5 Z" fill="#fff" opacity="0.85"/>
<circle cx="360.0" cy="460.5" r="2.2" fill="#1a1aff"/>
<path d="M360.2,459.0 A1.5,1.5 0 0 1 360.2,462.0 Z" fill="#fff" opacity="0.85"/>
<circle cx="365.0" cy="461.0" r="2.2" fill="#1a1aff"/>
<path d="M365.2,459.5 A1.5,1.5 0 0 1 365.2,462.5 Z" fill="#fff" opacity="0.85"/>
<circle cx="370.0" cy="461.0" r="2.2" fill="#1a1aff"/>
<path d="M370.2,459.5 A1.5,1.5 0 0 1 370.2,462.5 Z" fill="#fff" opacity="0.85"/>
<circle cx="374.8" cy="461.5" r="2.2" fill="#1a1aff"/>
<path d="M375.0,460.0 A1.5,1.5 0 0 1 375.0,463.0 Z" fill="#fff" opacity="0.85"/>
<circle cx="398.3" cy="409.1" r="2.2" fill="#1a1aff"/>
<path d="M398.5,407.6 A1.5,1.5 0 0 1 398.5,410.6 Z" fill="#fff" opacity="0.85"/>
<text x="403.5" y="411.5" font-size="6.8" stroke="#222" stroke-width="0.15" fill="#222">BTZ</text>
<circle cx="398.3" cy="418.5" r="1.9" fill="#fff" stroke="#c83a3a" stroke-width="1.1"/>
<text x="403.5" y="420.9" font-size="6.8" stroke="#222" stroke-width="0.15" fill="#222">CFZ</text>
<circle cx="398.3" cy="428.0" r="2.2" fill="#2a9aa8"/>
<path d="M396.8,428.3 A1.5,1.5 0 0 0 399.8,428.3 Z" fill="#e8ffff" opacity="0.85"/>
<text x="403.5" y="430.4" font-size="6.8" stroke="#222" stroke-width="0.15" fill="#222">PKS21265</text>
<rect x="278.3" y="520.7" width="172.7" height="8.299999999999955" fill="#f9d45c"/>
<line x1="277.90000000000003" y1="496.4" x2="451.4" y2="496.4" stroke="#3a3a3a" stroke-width="0.85"/>
<line x1="277.90000000000003" y1="504.2" x2="451.4" y2="504.2" stroke="#3a3a3a" stroke-width="0.85"/>
<line x1="277.90000000000003" y1="512.4" x2="451.4" y2="512.4" stroke="#3a3a3a" stroke-width="0.85"/>
<line x1="277.90000000000003" y1="520.7" x2="451.4" y2="520.7" stroke="#3a3a3a" stroke-width="0.85"/>
<line x1="277.90000000000003" y1="529.0" x2="451.4" y2="529.0" stroke="#3a3a3a" stroke-width="0.85"/>
<line x1="277.90000000000003" y1="537.1" x2="451.4" y2="537.1" stroke="#3a3a3a" stroke-width="0.85"/>
<line x1="277.90000000000003" y1="545.1" x2="451.4" y2="545.1" stroke="#3a3a3a" stroke-width="0.85"/>
<line x1="278.3" y1="496.0" x2="278.3" y2="545.5" stroke="#3a3a3a" stroke-width="0.85"/>
<line x1="335.5" y1="496.0" x2="335.5" y2="545.5" stroke="#3a3a3a" stroke-width="0.85"/>
<line x1="375.5" y1="503.8" x2="375.5" y2="545.5" stroke="#3a3a3a" stroke-width="0.85"/>
<line x1="403.5" y1="503.8" x2="403.5" y2="545.5" stroke="#3a3a3a" stroke-width="0.85"/>
<line x1="451.0" y1="496.0" x2="451.0" y2="545.5" stroke="#3a3a3a" stroke-width="0.85"/>
<text x="378.80" y="503.20" font-size="6.7" fill="#1a1a1a" stroke="#1a1a1a" stroke-width="0.22" textLength="69.3" lengthAdjust="spacingAndGlyphs">EC50 against U-CH1 (&#160;&#160;&#160;M)</text>
<rect x="438.10" y="498.90" width="3.90" height="4.3" fill="none" stroke="#222" stroke-width="0.75"/>
<text x="282.60" y="510.60" font-size="6.7" fill="#1a1a1a" stroke="#1a1a1a" stroke-width="0.22" textLength="48.8" lengthAdjust="spacingAndGlyphs">Inhibition pattern</text>
<text x="336.70" y="510.60" font-size="6.7" fill="#1a1a1a" stroke="#1a1a1a" stroke-width="0.22" textLength="37.2" lengthAdjust="spacingAndGlyphs">Compound ID</text>
<text x="376.80" y="510.60" font-size="6.7" fill="#1a1a1a" stroke="#1a1a1a" stroke-width="0.22" textLength="25.6" lengthAdjust="spacingAndGlyphs">1<tspan font-size="4.2" dy="-2">st</tspan><tspan dy="2"> repeat</tspan></text>
<text x="413.10" y="510.60" font-size="6.7" fill="#1a1a1a" stroke="#1a1a1a" stroke-width="0.22" textLength="27.6" lengthAdjust="spacingAndGlyphs">2<tspan font-size="4.2" dy="-2">nd</tspan><tspan dy="2"> repeat</tspan></text>
<rect x="291.10" y="514.55" width="3.40" height="4.3" fill="none" stroke="#222" stroke-width="0.75"/>
<text x="294.10" y="518.85" font-size="6.7" fill="#1a1a1a" stroke="#1a1a1a" stroke-width="0.22" textLength="30.0" lengthAdjust="spacingAndGlyphs">5i selective</text>
<text x="342.40" y="518.85" font-size="6.7" fill="#1a1a1a" stroke="#1a1a1a" stroke-width="0.22" textLength="25.9" lengthAdjust="spacingAndGlyphs">PKS21265</text>
<text x="386.10" y="518.85" font-size="6.7" fill="#1a1a1a" stroke="#1a1a1a" stroke-width="0.22" textLength="7.5" lengthAdjust="spacingAndGlyphs">1.5</text>
<text x="422.80" y="518.85" font-size="6.7" fill="#1a1a1a" stroke="#1a1a1a" stroke-width="0.22" textLength="8.2" lengthAdjust="spacingAndGlyphs">8.4</text>
<rect x="290.00" y="522.85" width="3.30" height="4.3" fill="none" stroke="#222" stroke-width="0.75"/>
<text x="293.50" y="527.15" font-size="6.7" fill="#1a1a1a" stroke="#1a1a1a" stroke-width="0.22" textLength="30.6" lengthAdjust="spacingAndGlyphs">5c selective</text>
<text x="344.30" y="527.15" font-size="6.7" fill="#1a1a1a" stroke="#1a1a1a" stroke-width="0.22" textLength="21.6" lengthAdjust="spacingAndGlyphs">WZ1831</text>
<text x="379.80" y="527.15" font-size="6.7" fill="#1a1a1a" stroke="#1a1a1a" stroke-width="0.22" textLength="18.5" lengthAdjust="spacingAndGlyphs">&gt;100.0</text>
<text x="421.20" y="527.15" font-size="6.7" fill="#1a1a1a" stroke="#1a1a1a" stroke-width="0.22" textLength="12.0" lengthAdjust="spacingAndGlyphs">93.0</text>
<rect x="281.40" y="531.05" width="3.20" height="4.3" fill="none" stroke="#222" stroke-width="0.75"/>
<text x="284.50" y="535.35" font-size="6.7" fill="#1a1a1a" stroke="#1a1a1a" stroke-width="0.22" textLength="3.8" lengthAdjust="spacingAndGlyphs">5,</text>
<rect x="291.10" y="531.05" width="3.40" height="4.3" fill="none" stroke="#222" stroke-width="0.75"/>
<text x="299.10" y="535.35" font-size="6.7" fill="#1a1a1a" stroke="#1a1a1a" stroke-width="0.22" textLength="35.9" lengthAdjust="spacingAndGlyphs">co-inhibition</text>
<text x="350.40" y="535.35" font-size="6.7" fill="#1a1a1a" stroke="#1a1a1a" stroke-width="0.22" textLength="9.8" lengthAdjust="spacingAndGlyphs">BTZ</text>
<text x="382.00" y="535.35" font-size="6.7" fill="#1a1a1a" stroke="#1a1a1a" stroke-width="0.22" textLength="14.9" lengthAdjust="spacingAndGlyphs">0.004</text>
<text x="419.70" y="535.35" font-size="6.7" fill="#1a1a1a" stroke="#1a1a1a" stroke-width="0.22" textLength="14.6" lengthAdjust="spacingAndGlyphs">0.003</text>
<rect x="290.00" y="539.10" width="3.30" height="4.3" fill="none" stroke="#222" stroke-width="0.75"/>
<text x="293.50" y="543.40" font-size="6.7" fill="#1a1a1a" stroke="#1a1a1a" stroke-width="0.22" textLength="2.8" lengthAdjust="spacingAndGlyphs">5</text>
<text x="297.90" y="543.40" font-size="6.7" fill="#1a1a1a" stroke="#1a1a1a" stroke-width="0.22" textLength="26.2" lengthAdjust="spacingAndGlyphs">inhibition</text>
<text x="350.40" y="543.40" font-size="6.7" fill="#1a1a1a" stroke="#1a1a1a" stroke-width="0.22" textLength="9.8" lengthAdjust="spacingAndGlyphs">CFZ</text>
<text x="382.00" y="543.40" font-size="6.7" fill="#1a1a1a" stroke="#1a1a1a" stroke-width="0.22" textLength="14.9" lengthAdjust="spacingAndGlyphs">0.125</text>
<text x="419.70" y="543.40" font-size="6.7" fill="#1a1a1a" stroke="#1a1a1a" stroke-width="0.22" textLength="14.6" lengthAdjust="spacingAndGlyphs">0.064</text>
</svg></body></html>
